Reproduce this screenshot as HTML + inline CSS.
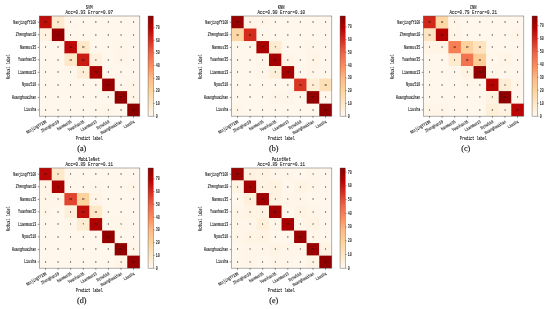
<!DOCTYPE html>
<html lang="en"><head><meta charset="utf-8"><title>Confusion matrices</title>
<style>html,body{margin:0;padding:0;background:#fff}svg{display:block}.m{font-family:"Liberation Mono","DejaVu Sans Mono",monospace;fill:#111;stroke:#111;stroke-width:0.9}.d{fill:#1c1612;stroke:#1c1612;stroke-width:1.6;font-weight:bold;opacity:0.66;text-rendering:geometricPrecision}.s{font-family:"Liberation Serif","DejaVu Serif",serif;fill:#111;text-rendering:geometricPrecision}</style></head><body>
<svg width="550" height="309" viewBox="0 0 550 309">
<defs><linearGradient id="g" x1="0" y1="1" x2="0" y2="0">
<stop offset="0.0000" stop-color="#fff7ec"/>
<stop offset="0.1250" stop-color="#fee8c8"/>
<stop offset="0.2500" stop-color="#fdd49e"/>
<stop offset="0.3750" stop-color="#fdbb84"/>
<stop offset="0.5000" stop-color="#fc8d59"/>
<stop offset="0.6250" stop-color="#ef6548"/>
<stop offset="0.7500" stop-color="#d7301f"/>
<stop offset="0.8750" stop-color="#b80202"/>
<stop offset="1.0000" stop-color="#8c0000"/>
</linearGradient></defs>
<rect width="550" height="309" fill="#fff"/>
<g>
<rect x="39.25" y="16.00" width="100.60" height="100.15" fill="#fff7ec"/>
<rect x="39.25" y="16.00" width="12.57" height="12.52" fill="#bf0d09"/>
<rect x="51.83" y="16.00" width="12.57" height="12.52" fill="#feebcf"/>
<rect x="39.25" y="28.52" width="12.57" height="12.52" fill="#fff2e1"/>
<rect x="51.83" y="28.52" width="12.57" height="12.52" fill="#960000"/>
<rect x="64.40" y="41.04" width="12.57" height="12.52" fill="#bc0806"/>
<rect x="76.97" y="41.04" width="12.57" height="12.52" fill="#fee8c8"/>
<rect x="114.70" y="41.04" width="12.57" height="12.52" fill="#fff5e8"/>
<rect x="64.40" y="53.56" width="12.57" height="12.52" fill="#fee8c8"/>
<rect x="76.97" y="53.56" width="12.57" height="12.52" fill="#c91b12"/>
<rect x="89.55" y="53.56" width="12.57" height="12.52" fill="#fff1dd"/>
<rect x="114.70" y="53.56" width="12.57" height="12.52" fill="#fff5e8"/>
<rect x="76.97" y="66.08" width="12.57" height="12.52" fill="#feeed6"/>
<rect x="89.55" y="66.08" width="12.57" height="12.52" fill="#a80101"/>
<rect x="102.12" y="78.59" width="12.57" height="12.52" fill="#960000"/>
<rect x="127.27" y="78.59" width="12.57" height="12.52" fill="#fff5e8"/>
<rect x="114.70" y="91.11" width="12.57" height="12.52" fill="#910000"/>
<rect x="127.27" y="91.11" width="12.57" height="12.52" fill="#fff5e8"/>
<rect x="102.12" y="103.63" width="12.57" height="12.52" fill="#fff5e8"/>
<rect x="127.27" y="103.63" width="12.57" height="12.52" fill="#8d0000"/>
<rect x="39.25" y="16.00" width="100.60" height="100.15" fill="none" stroke="#555" stroke-width="0.45"/>
<text class="m d" transform="translate(45.54 23.06) scale(0.100)" font-size="29.0" text-anchor="middle" textLength="23.0" lengthAdjust="spacingAndGlyphs">67</text>
<text class="m d" transform="translate(58.11 23.06) scale(0.100)" font-size="29.0" text-anchor="middle" textLength="11.5" lengthAdjust="spacingAndGlyphs">8</text>
<text class="m d" transform="translate(70.69 23.06) scale(0.100)" font-size="29.0" text-anchor="middle" textLength="11.5" lengthAdjust="spacingAndGlyphs">0</text>
<text class="m d" transform="translate(83.26 23.06) scale(0.100)" font-size="29.0" text-anchor="middle" textLength="11.5" lengthAdjust="spacingAndGlyphs">0</text>
<text class="m d" transform="translate(95.84 23.06) scale(0.100)" font-size="29.0" text-anchor="middle" textLength="11.5" lengthAdjust="spacingAndGlyphs">0</text>
<text class="m d" transform="translate(108.41 23.06) scale(0.100)" font-size="29.0" text-anchor="middle" textLength="11.5" lengthAdjust="spacingAndGlyphs">0</text>
<text class="m d" transform="translate(120.99 23.06) scale(0.100)" font-size="29.0" text-anchor="middle" textLength="11.5" lengthAdjust="spacingAndGlyphs">0</text>
<text class="m d" transform="translate(133.56 23.06) scale(0.100)" font-size="29.0" text-anchor="middle" textLength="11.5" lengthAdjust="spacingAndGlyphs">0</text>
<text class="m d" transform="translate(45.54 35.58) scale(0.100)" font-size="29.0" text-anchor="middle" textLength="11.5" lengthAdjust="spacingAndGlyphs">3</text>
<text class="m d" transform="translate(58.11 35.58) scale(0.100)" font-size="29.0" text-anchor="middle" textLength="23.0" lengthAdjust="spacingAndGlyphs">77</text>
<text class="m d" transform="translate(70.69 35.58) scale(0.100)" font-size="29.0" text-anchor="middle" textLength="11.5" lengthAdjust="spacingAndGlyphs">0</text>
<text class="m d" transform="translate(83.26 35.58) scale(0.100)" font-size="29.0" text-anchor="middle" textLength="11.5" lengthAdjust="spacingAndGlyphs">0</text>
<text class="m d" transform="translate(95.84 35.58) scale(0.100)" font-size="29.0" text-anchor="middle" textLength="11.5" lengthAdjust="spacingAndGlyphs">0</text>
<text class="m d" transform="translate(108.41 35.58) scale(0.100)" font-size="29.0" text-anchor="middle" textLength="11.5" lengthAdjust="spacingAndGlyphs">0</text>
<text class="m d" transform="translate(120.99 35.58) scale(0.100)" font-size="29.0" text-anchor="middle" textLength="11.5" lengthAdjust="spacingAndGlyphs">0</text>
<text class="m d" transform="translate(133.56 35.58) scale(0.100)" font-size="29.0" text-anchor="middle" textLength="11.5" lengthAdjust="spacingAndGlyphs">0</text>
<text class="m d" transform="translate(45.54 48.10) scale(0.100)" font-size="29.0" text-anchor="middle" textLength="11.5" lengthAdjust="spacingAndGlyphs">0</text>
<text class="m d" transform="translate(58.11 48.10) scale(0.100)" font-size="29.0" text-anchor="middle" textLength="11.5" lengthAdjust="spacingAndGlyphs">0</text>
<text class="m d" transform="translate(70.69 48.10) scale(0.100)" font-size="29.0" text-anchor="middle" textLength="23.0" lengthAdjust="spacingAndGlyphs">68</text>
<text class="m d" transform="translate(83.26 48.10) scale(0.100)" font-size="29.0" text-anchor="middle" textLength="23.0" lengthAdjust="spacingAndGlyphs">10</text>
<text class="m d" transform="translate(95.84 48.10) scale(0.100)" font-size="29.0" text-anchor="middle" textLength="11.5" lengthAdjust="spacingAndGlyphs">0</text>
<text class="m d" transform="translate(108.41 48.10) scale(0.100)" font-size="29.0" text-anchor="middle" textLength="11.5" lengthAdjust="spacingAndGlyphs">0</text>
<text class="m d" transform="translate(120.99 48.10) scale(0.100)" font-size="29.0" text-anchor="middle" textLength="11.5" lengthAdjust="spacingAndGlyphs">1</text>
<text class="m d" transform="translate(133.56 48.10) scale(0.100)" font-size="29.0" text-anchor="middle" textLength="11.5" lengthAdjust="spacingAndGlyphs">0</text>
<text class="m d" transform="translate(45.54 60.62) scale(0.100)" font-size="29.0" text-anchor="middle" textLength="11.5" lengthAdjust="spacingAndGlyphs">0</text>
<text class="m d" transform="translate(58.11 60.62) scale(0.100)" font-size="29.0" text-anchor="middle" textLength="11.5" lengthAdjust="spacingAndGlyphs">0</text>
<text class="m d" transform="translate(70.69 60.62) scale(0.100)" font-size="29.0" text-anchor="middle" textLength="23.0" lengthAdjust="spacingAndGlyphs">10</text>
<text class="m d" transform="translate(83.26 60.62) scale(0.100)" font-size="29.0" text-anchor="middle" textLength="23.0" lengthAdjust="spacingAndGlyphs">64</text>
<text class="m d" transform="translate(95.84 60.62) scale(0.100)" font-size="29.0" text-anchor="middle" textLength="11.5" lengthAdjust="spacingAndGlyphs">4</text>
<text class="m d" transform="translate(108.41 60.62) scale(0.100)" font-size="29.0" text-anchor="middle" textLength="11.5" lengthAdjust="spacingAndGlyphs">0</text>
<text class="m d" transform="translate(120.99 60.62) scale(0.100)" font-size="29.0" text-anchor="middle" textLength="11.5" lengthAdjust="spacingAndGlyphs">1</text>
<text class="m d" transform="translate(133.56 60.62) scale(0.100)" font-size="29.0" text-anchor="middle" textLength="11.5" lengthAdjust="spacingAndGlyphs">0</text>
<text class="m d" transform="translate(45.54 73.13) scale(0.100)" font-size="29.0" text-anchor="middle" textLength="11.5" lengthAdjust="spacingAndGlyphs">0</text>
<text class="m d" transform="translate(58.11 73.13) scale(0.100)" font-size="29.0" text-anchor="middle" textLength="11.5" lengthAdjust="spacingAndGlyphs">0</text>
<text class="m d" transform="translate(70.69 73.13) scale(0.100)" font-size="29.0" text-anchor="middle" textLength="11.5" lengthAdjust="spacingAndGlyphs">0</text>
<text class="m d" transform="translate(83.26 73.13) scale(0.100)" font-size="29.0" text-anchor="middle" textLength="11.5" lengthAdjust="spacingAndGlyphs">6</text>
<text class="m d" transform="translate(95.84 73.13) scale(0.100)" font-size="29.0" text-anchor="middle" textLength="23.0" lengthAdjust="spacingAndGlyphs">73</text>
<text class="m d" transform="translate(108.41 73.13) scale(0.100)" font-size="29.0" text-anchor="middle" textLength="11.5" lengthAdjust="spacingAndGlyphs">0</text>
<text class="m d" transform="translate(120.99 73.13) scale(0.100)" font-size="29.0" text-anchor="middle" textLength="11.5" lengthAdjust="spacingAndGlyphs">0</text>
<text class="m d" transform="translate(133.56 73.13) scale(0.100)" font-size="29.0" text-anchor="middle" textLength="11.5" lengthAdjust="spacingAndGlyphs">0</text>
<text class="m d" transform="translate(45.54 85.65) scale(0.100)" font-size="29.0" text-anchor="middle" textLength="11.5" lengthAdjust="spacingAndGlyphs">0</text>
<text class="m d" transform="translate(58.11 85.65) scale(0.100)" font-size="29.0" text-anchor="middle" textLength="11.5" lengthAdjust="spacingAndGlyphs">0</text>
<text class="m d" transform="translate(70.69 85.65) scale(0.100)" font-size="29.0" text-anchor="middle" textLength="11.5" lengthAdjust="spacingAndGlyphs">0</text>
<text class="m d" transform="translate(83.26 85.65) scale(0.100)" font-size="29.0" text-anchor="middle" textLength="11.5" lengthAdjust="spacingAndGlyphs">0</text>
<text class="m d" transform="translate(95.84 85.65) scale(0.100)" font-size="29.0" text-anchor="middle" textLength="11.5" lengthAdjust="spacingAndGlyphs">0</text>
<text class="m d" transform="translate(108.41 85.65) scale(0.100)" font-size="29.0" text-anchor="middle" textLength="23.0" lengthAdjust="spacingAndGlyphs">77</text>
<text class="m d" transform="translate(120.99 85.65) scale(0.100)" font-size="29.0" text-anchor="middle" textLength="11.5" lengthAdjust="spacingAndGlyphs">0</text>
<text class="m d" transform="translate(133.56 85.65) scale(0.100)" font-size="29.0" text-anchor="middle" textLength="11.5" lengthAdjust="spacingAndGlyphs">1</text>
<text class="m d" transform="translate(45.54 98.17) scale(0.100)" font-size="29.0" text-anchor="middle" textLength="11.5" lengthAdjust="spacingAndGlyphs">0</text>
<text class="m d" transform="translate(58.11 98.17) scale(0.100)" font-size="29.0" text-anchor="middle" textLength="11.5" lengthAdjust="spacingAndGlyphs">0</text>
<text class="m d" transform="translate(70.69 98.17) scale(0.100)" font-size="29.0" text-anchor="middle" textLength="11.5" lengthAdjust="spacingAndGlyphs">0</text>
<text class="m d" transform="translate(83.26 98.17) scale(0.100)" font-size="29.0" text-anchor="middle" textLength="11.5" lengthAdjust="spacingAndGlyphs">0</text>
<text class="m d" transform="translate(95.84 98.17) scale(0.100)" font-size="29.0" text-anchor="middle" textLength="11.5" lengthAdjust="spacingAndGlyphs">0</text>
<text class="m d" transform="translate(108.41 98.17) scale(0.100)" font-size="29.0" text-anchor="middle" textLength="11.5" lengthAdjust="spacingAndGlyphs">0</text>
<text class="m d" transform="translate(120.99 98.17) scale(0.100)" font-size="29.0" text-anchor="middle" textLength="23.0" lengthAdjust="spacingAndGlyphs">78</text>
<text class="m d" transform="translate(133.56 98.17) scale(0.100)" font-size="29.0" text-anchor="middle" textLength="11.5" lengthAdjust="spacingAndGlyphs">1</text>
<text class="m d" transform="translate(45.54 110.69) scale(0.100)" font-size="29.0" text-anchor="middle" textLength="11.5" lengthAdjust="spacingAndGlyphs">0</text>
<text class="m d" transform="translate(58.11 110.69) scale(0.100)" font-size="29.0" text-anchor="middle" textLength="11.5" lengthAdjust="spacingAndGlyphs">0</text>
<text class="m d" transform="translate(70.69 110.69) scale(0.100)" font-size="29.0" text-anchor="middle" textLength="11.5" lengthAdjust="spacingAndGlyphs">0</text>
<text class="m d" transform="translate(83.26 110.69) scale(0.100)" font-size="29.0" text-anchor="middle" textLength="11.5" lengthAdjust="spacingAndGlyphs">0</text>
<text class="m d" transform="translate(95.84 110.69) scale(0.100)" font-size="29.0" text-anchor="middle" textLength="11.5" lengthAdjust="spacingAndGlyphs">0</text>
<text class="m d" transform="translate(108.41 110.69) scale(0.100)" font-size="29.0" text-anchor="middle" textLength="11.5" lengthAdjust="spacingAndGlyphs">1</text>
<text class="m d" transform="translate(120.99 110.69) scale(0.100)" font-size="29.0" text-anchor="middle" textLength="11.5" lengthAdjust="spacingAndGlyphs">0</text>
<text class="m d" transform="translate(133.56 110.69) scale(0.100)" font-size="29.0" text-anchor="middle" textLength="23.0" lengthAdjust="spacingAndGlyphs">79</text>
<path d="M39.25 22.26h-1.5M45.54 116.15v1.6" stroke="#111" stroke-width="0.5" fill="none"/>
<text class="m" transform="translate(36.25 23.86) scale(0.100)" font-size="47.0" text-anchor="end" textLength="230.4" lengthAdjust="spacingAndGlyphs">NanjingYY108</text>
<text class="m" transform="translate(46.94 122.45) rotate(-30) scale(0.100)" font-size="47.0" text-anchor="end" textLength="228.0" lengthAdjust="spacingAndGlyphs" stroke-width="1.6">NanjingYY108</text>
<path d="M39.25 34.78h-1.5M58.11 116.15v1.6" stroke="#111" stroke-width="0.5" fill="none"/>
<text class="m" transform="translate(36.25 36.38) scale(0.100)" font-size="47.0" text-anchor="end" textLength="204.0" lengthAdjust="spacingAndGlyphs">Zhenghan10</text>
<text class="m" transform="translate(59.51 122.45) rotate(-30) scale(0.100)" font-size="47.0" text-anchor="end" textLength="202.0" lengthAdjust="spacingAndGlyphs" stroke-width="1.6">Zhenghan10</text>
<path d="M39.25 47.30h-1.5M70.69 116.15v1.6" stroke="#111" stroke-width="0.5" fill="none"/>
<text class="m" transform="translate(36.25 48.90) scale(0.100)" font-size="47.0" text-anchor="end" textLength="163.2" lengthAdjust="spacingAndGlyphs">Nanmus35</text>
<text class="m" transform="translate(72.09 122.45) rotate(-30) scale(0.100)" font-size="47.0" text-anchor="end" textLength="161.6" lengthAdjust="spacingAndGlyphs" stroke-width="1.6">Nanmus35</text>
<path d="M39.25 59.82h-1.5M83.26 116.15v1.6" stroke="#111" stroke-width="0.5" fill="none"/>
<text class="m" transform="translate(36.25 61.42) scale(0.100)" font-size="47.0" text-anchor="end" textLength="183.6" lengthAdjust="spacingAndGlyphs">Yuanhan35</text>
<text class="m" transform="translate(84.66 122.45) rotate(-30) scale(0.100)" font-size="47.0" text-anchor="end" textLength="181.8" lengthAdjust="spacingAndGlyphs" stroke-width="1.6">Yuanhan35</text>
<path d="M39.25 72.33h-1.5M95.84 116.15v1.6" stroke="#111" stroke-width="0.5" fill="none"/>
<text class="m" transform="translate(36.25 73.93) scale(0.100)" font-size="47.0" text-anchor="end" textLength="183.6" lengthAdjust="spacingAndGlyphs">Lianmuo13</text>
<text class="m" transform="translate(97.24 122.45) rotate(-30) scale(0.100)" font-size="47.0" text-anchor="end" textLength="181.8" lengthAdjust="spacingAndGlyphs" stroke-width="1.6">Lianmuo13</text>
<path d="M39.25 84.85h-1.5M108.41 116.15v1.6" stroke="#111" stroke-width="0.5" fill="none"/>
<text class="m" transform="translate(36.25 86.45) scale(0.100)" font-size="47.0" text-anchor="end" textLength="142.8" lengthAdjust="spacingAndGlyphs">Nyou518</text>
<text class="m" transform="translate(109.81 122.45) rotate(-30) scale(0.100)" font-size="47.0" text-anchor="end" textLength="141.4" lengthAdjust="spacingAndGlyphs" stroke-width="1.6">Nyou518</text>
<path d="M39.25 97.37h-1.5M120.99 116.15v1.6" stroke="#111" stroke-width="0.5" fill="none"/>
<text class="m" transform="translate(36.25 98.97) scale(0.100)" font-size="47.0" text-anchor="end" textLength="244.8" lengthAdjust="spacingAndGlyphs">Huanghuaihan</text>
<text class="m" transform="translate(122.39 122.45) rotate(-30) scale(0.100)" font-size="47.0" text-anchor="end" textLength="242.4" lengthAdjust="spacingAndGlyphs" stroke-width="1.6">Huanghuaihan</text>
<path d="M39.25 109.89h-1.5M133.56 116.15v1.6" stroke="#111" stroke-width="0.5" fill="none"/>
<text class="m" transform="translate(36.25 111.49) scale(0.100)" font-size="47.0" text-anchor="end" textLength="122.4" lengthAdjust="spacingAndGlyphs">Liusha</text>
<text class="m" transform="translate(134.96 122.45) rotate(-30) scale(0.100)" font-size="47.0" text-anchor="end" textLength="121.2" lengthAdjust="spacingAndGlyphs" stroke-width="1.6">Liusha</text>
<text class="m" transform="translate(9.50 66.67) rotate(-90) scale(0.100)" font-size="46.0" text-anchor="middle" textLength="246.0" lengthAdjust="spacingAndGlyphs">Actual label</text>
<text class="m" transform="translate(89.30 140.35) scale(0.100)" font-size="48.0" text-anchor="middle" textLength="269.1" lengthAdjust="spacingAndGlyphs">Predict label</text>
<text class="m" transform="translate(89.20 8.55) scale(0.100)" font-size="55.0" text-anchor="middle" textLength="69.0" lengthAdjust="spacingAndGlyphs" stroke-width="1.2">SVM</text>
<text class="m" transform="translate(89.20 13.65) scale(0.100)" font-size="55.0" text-anchor="middle" textLength="475.0" lengthAdjust="spacingAndGlyphs" stroke-width="0.4">Acc=0.93 Error=0.07</text>
<rect x="148.05" y="16.00" width="5.20" height="100.15" fill="url(#g)" stroke="#444" stroke-width="0.4"/>
<path d="M153.25 116.15h1.5" stroke="#333" stroke-width="0.4"/>
<text class="m" transform="translate(155.75 117.65) scale(0.100)" font-size="47.0" text-anchor="start" textLength="20.0" lengthAdjust="spacingAndGlyphs">0</text>
<path d="M153.25 103.50h1.5" stroke="#333" stroke-width="0.4"/>
<text class="m" transform="translate(155.75 105.00) scale(0.100)" font-size="47.0" text-anchor="start" textLength="40.0" lengthAdjust="spacingAndGlyphs">10</text>
<path d="M153.25 90.86h1.5" stroke="#333" stroke-width="0.4"/>
<text class="m" transform="translate(155.75 92.36) scale(0.100)" font-size="47.0" text-anchor="start" textLength="40.0" lengthAdjust="spacingAndGlyphs">20</text>
<path d="M153.25 78.21h1.5" stroke="#333" stroke-width="0.4"/>
<text class="m" transform="translate(155.75 79.71) scale(0.100)" font-size="47.0" text-anchor="start" textLength="40.0" lengthAdjust="spacingAndGlyphs">30</text>
<path d="M153.25 65.57h1.5" stroke="#333" stroke-width="0.4"/>
<text class="m" transform="translate(155.75 67.07) scale(0.100)" font-size="47.0" text-anchor="start" textLength="40.0" lengthAdjust="spacingAndGlyphs">40</text>
<path d="M153.25 52.92h1.5" stroke="#333" stroke-width="0.4"/>
<text class="m" transform="translate(155.75 54.42) scale(0.100)" font-size="47.0" text-anchor="start" textLength="40.0" lengthAdjust="spacingAndGlyphs">50</text>
<path d="M153.25 40.28h1.5" stroke="#333" stroke-width="0.4"/>
<text class="m" transform="translate(155.75 41.78) scale(0.100)" font-size="47.0" text-anchor="start" textLength="40.0" lengthAdjust="spacingAndGlyphs">60</text>
<path d="M153.25 27.63h1.5" stroke="#333" stroke-width="0.4"/>
<text class="m" transform="translate(155.75 29.13) scale(0.100)" font-size="47.0" text-anchor="start" textLength="40.0" lengthAdjust="spacingAndGlyphs">70</text>
<text class="s" transform="translate(81.80 150.75) scale(0.100)" font-size="82.0" text-anchor="middle" stroke="#111" stroke-width="1.5">(a)</text>
</g>
<g>
<rect x="231.25" y="16.00" width="100.60" height="100.15" fill="#fff7ec"/>
<rect x="231.25" y="16.00" width="12.57" height="12.52" fill="#980101"/>
<rect x="243.82" y="16.00" width="12.57" height="12.52" fill="#fff4e5"/>
<rect x="256.40" y="16.00" width="12.57" height="12.52" fill="#fff5e8"/>
<rect x="231.25" y="28.52" width="12.57" height="12.52" fill="#fdd7a5"/>
<rect x="243.82" y="28.52" width="12.57" height="12.52" fill="#d42b1c"/>
<rect x="256.40" y="41.04" width="12.57" height="12.52" fill="#aa0101"/>
<rect x="268.98" y="41.04" width="12.57" height="12.52" fill="#feecd2"/>
<rect x="306.70" y="41.04" width="12.57" height="12.52" fill="#fff5e8"/>
<rect x="256.40" y="53.56" width="12.57" height="12.52" fill="#fff5e8"/>
<rect x="268.98" y="53.56" width="12.57" height="12.52" fill="#a50101"/>
<rect x="281.55" y="53.56" width="12.57" height="12.52" fill="#fff4e5"/>
<rect x="306.70" y="53.56" width="12.57" height="12.52" fill="#fff4e5"/>
<rect x="256.40" y="66.08" width="12.57" height="12.52" fill="#fff5e8"/>
<rect x="268.98" y="66.08" width="12.57" height="12.52" fill="#feefda"/>
<rect x="281.55" y="66.08" width="12.57" height="12.52" fill="#a50101"/>
<rect x="306.70" y="66.08" width="12.57" height="12.52" fill="#fff5e8"/>
<rect x="294.12" y="78.59" width="12.57" height="12.52" fill="#d93523"/>
<rect x="306.70" y="78.59" width="12.57" height="12.52" fill="#feeed6"/>
<rect x="319.27" y="78.59" width="12.57" height="12.52" fill="#fee0b6"/>
<rect x="268.98" y="91.11" width="12.57" height="12.52" fill="#fff5e8"/>
<rect x="281.55" y="91.11" width="12.57" height="12.52" fill="#fff5e8"/>
<rect x="306.70" y="91.11" width="12.57" height="12.52" fill="#930000"/>
<rect x="231.25" y="103.63" width="12.57" height="12.52" fill="#fff5e8"/>
<rect x="319.27" y="103.63" width="12.57" height="12.52" fill="#8f0000"/>
<rect x="231.25" y="16.00" width="100.60" height="100.15" fill="none" stroke="#555" stroke-width="0.45"/>
<text class="m d" transform="translate(237.54 23.06) scale(0.100)" font-size="29.0" text-anchor="middle" textLength="23.0" lengthAdjust="spacingAndGlyphs">76</text>
<text class="m d" transform="translate(250.11 23.06) scale(0.100)" font-size="29.0" text-anchor="middle" textLength="11.5" lengthAdjust="spacingAndGlyphs">2</text>
<text class="m d" transform="translate(262.69 23.06) scale(0.100)" font-size="29.0" text-anchor="middle" textLength="11.5" lengthAdjust="spacingAndGlyphs">1</text>
<text class="m d" transform="translate(275.26 23.06) scale(0.100)" font-size="29.0" text-anchor="middle" textLength="11.5" lengthAdjust="spacingAndGlyphs">0</text>
<text class="m d" transform="translate(287.84 23.06) scale(0.100)" font-size="29.0" text-anchor="middle" textLength="11.5" lengthAdjust="spacingAndGlyphs">0</text>
<text class="m d" transform="translate(300.41 23.06) scale(0.100)" font-size="29.0" text-anchor="middle" textLength="11.5" lengthAdjust="spacingAndGlyphs">0</text>
<text class="m d" transform="translate(312.99 23.06) scale(0.100)" font-size="29.0" text-anchor="middle" textLength="11.5" lengthAdjust="spacingAndGlyphs">0</text>
<text class="m d" transform="translate(325.56 23.06) scale(0.100)" font-size="29.0" text-anchor="middle" textLength="11.5" lengthAdjust="spacingAndGlyphs">0</text>
<text class="m d" transform="translate(237.54 35.58) scale(0.100)" font-size="29.0" text-anchor="middle" textLength="23.0" lengthAdjust="spacingAndGlyphs">18</text>
<text class="m d" transform="translate(250.11 35.58) scale(0.100)" font-size="29.0" text-anchor="middle" textLength="23.0" lengthAdjust="spacingAndGlyphs">60</text>
<text class="m d" transform="translate(262.69 35.58) scale(0.100)" font-size="29.0" text-anchor="middle" textLength="11.5" lengthAdjust="spacingAndGlyphs">0</text>
<text class="m d" transform="translate(275.26 35.58) scale(0.100)" font-size="29.0" text-anchor="middle" textLength="11.5" lengthAdjust="spacingAndGlyphs">0</text>
<text class="m d" transform="translate(287.84 35.58) scale(0.100)" font-size="29.0" text-anchor="middle" textLength="11.5" lengthAdjust="spacingAndGlyphs">0</text>
<text class="m d" transform="translate(300.41 35.58) scale(0.100)" font-size="29.0" text-anchor="middle" textLength="11.5" lengthAdjust="spacingAndGlyphs">0</text>
<text class="m d" transform="translate(312.99 35.58) scale(0.100)" font-size="29.0" text-anchor="middle" textLength="11.5" lengthAdjust="spacingAndGlyphs">0</text>
<text class="m d" transform="translate(325.56 35.58) scale(0.100)" font-size="29.0" text-anchor="middle" textLength="11.5" lengthAdjust="spacingAndGlyphs">0</text>
<text class="m d" transform="translate(237.54 48.10) scale(0.100)" font-size="29.0" text-anchor="middle" textLength="11.5" lengthAdjust="spacingAndGlyphs">0</text>
<text class="m d" transform="translate(250.11 48.10) scale(0.100)" font-size="29.0" text-anchor="middle" textLength="11.5" lengthAdjust="spacingAndGlyphs">0</text>
<text class="m d" transform="translate(262.69 48.10) scale(0.100)" font-size="29.0" text-anchor="middle" textLength="23.0" lengthAdjust="spacingAndGlyphs">72</text>
<text class="m d" transform="translate(275.26 48.10) scale(0.100)" font-size="29.0" text-anchor="middle" textLength="11.5" lengthAdjust="spacingAndGlyphs">7</text>
<text class="m d" transform="translate(287.84 48.10) scale(0.100)" font-size="29.0" text-anchor="middle" textLength="11.5" lengthAdjust="spacingAndGlyphs">0</text>
<text class="m d" transform="translate(300.41 48.10) scale(0.100)" font-size="29.0" text-anchor="middle" textLength="11.5" lengthAdjust="spacingAndGlyphs">0</text>
<text class="m d" transform="translate(312.99 48.10) scale(0.100)" font-size="29.0" text-anchor="middle" textLength="11.5" lengthAdjust="spacingAndGlyphs">1</text>
<text class="m d" transform="translate(325.56 48.10) scale(0.100)" font-size="29.0" text-anchor="middle" textLength="11.5" lengthAdjust="spacingAndGlyphs">0</text>
<text class="m d" transform="translate(237.54 60.62) scale(0.100)" font-size="29.0" text-anchor="middle" textLength="11.5" lengthAdjust="spacingAndGlyphs">0</text>
<text class="m d" transform="translate(250.11 60.62) scale(0.100)" font-size="29.0" text-anchor="middle" textLength="11.5" lengthAdjust="spacingAndGlyphs">0</text>
<text class="m d" transform="translate(262.69 60.62) scale(0.100)" font-size="29.0" text-anchor="middle" textLength="11.5" lengthAdjust="spacingAndGlyphs">1</text>
<text class="m d" transform="translate(275.26 60.62) scale(0.100)" font-size="29.0" text-anchor="middle" textLength="23.0" lengthAdjust="spacingAndGlyphs">73</text>
<text class="m d" transform="translate(287.84 60.62) scale(0.100)" font-size="29.0" text-anchor="middle" textLength="11.5" lengthAdjust="spacingAndGlyphs">2</text>
<text class="m d" transform="translate(300.41 60.62) scale(0.100)" font-size="29.0" text-anchor="middle" textLength="11.5" lengthAdjust="spacingAndGlyphs">0</text>
<text class="m d" transform="translate(312.99 60.62) scale(0.100)" font-size="29.0" text-anchor="middle" textLength="11.5" lengthAdjust="spacingAndGlyphs">2</text>
<text class="m d" transform="translate(325.56 60.62) scale(0.100)" font-size="29.0" text-anchor="middle" textLength="11.5" lengthAdjust="spacingAndGlyphs">0</text>
<text class="m d" transform="translate(237.54 73.13) scale(0.100)" font-size="29.0" text-anchor="middle" textLength="11.5" lengthAdjust="spacingAndGlyphs">0</text>
<text class="m d" transform="translate(250.11 73.13) scale(0.100)" font-size="29.0" text-anchor="middle" textLength="11.5" lengthAdjust="spacingAndGlyphs">0</text>
<text class="m d" transform="translate(262.69 73.13) scale(0.100)" font-size="29.0" text-anchor="middle" textLength="11.5" lengthAdjust="spacingAndGlyphs">1</text>
<text class="m d" transform="translate(275.26 73.13) scale(0.100)" font-size="29.0" text-anchor="middle" textLength="11.5" lengthAdjust="spacingAndGlyphs">5</text>
<text class="m d" transform="translate(287.84 73.13) scale(0.100)" font-size="29.0" text-anchor="middle" textLength="23.0" lengthAdjust="spacingAndGlyphs">73</text>
<text class="m d" transform="translate(300.41 73.13) scale(0.100)" font-size="29.0" text-anchor="middle" textLength="11.5" lengthAdjust="spacingAndGlyphs">0</text>
<text class="m d" transform="translate(312.99 73.13) scale(0.100)" font-size="29.0" text-anchor="middle" textLength="11.5" lengthAdjust="spacingAndGlyphs">1</text>
<text class="m d" transform="translate(325.56 73.13) scale(0.100)" font-size="29.0" text-anchor="middle" textLength="11.5" lengthAdjust="spacingAndGlyphs">0</text>
<text class="m d" transform="translate(237.54 85.65) scale(0.100)" font-size="29.0" text-anchor="middle" textLength="11.5" lengthAdjust="spacingAndGlyphs">0</text>
<text class="m d" transform="translate(250.11 85.65) scale(0.100)" font-size="29.0" text-anchor="middle" textLength="11.5" lengthAdjust="spacingAndGlyphs">0</text>
<text class="m d" transform="translate(262.69 85.65) scale(0.100)" font-size="29.0" text-anchor="middle" textLength="11.5" lengthAdjust="spacingAndGlyphs">0</text>
<text class="m d" transform="translate(275.26 85.65) scale(0.100)" font-size="29.0" text-anchor="middle" textLength="11.5" lengthAdjust="spacingAndGlyphs">0</text>
<text class="m d" transform="translate(287.84 85.65) scale(0.100)" font-size="29.0" text-anchor="middle" textLength="11.5" lengthAdjust="spacingAndGlyphs">0</text>
<text class="m d" transform="translate(300.41 85.65) scale(0.100)" font-size="29.0" text-anchor="middle" textLength="23.0" lengthAdjust="spacingAndGlyphs">58</text>
<text class="m d" transform="translate(312.99 85.65) scale(0.100)" font-size="29.0" text-anchor="middle" textLength="11.5" lengthAdjust="spacingAndGlyphs">6</text>
<text class="m d" transform="translate(325.56 85.65) scale(0.100)" font-size="29.0" text-anchor="middle" textLength="23.0" lengthAdjust="spacingAndGlyphs">14</text>
<text class="m d" transform="translate(237.54 98.17) scale(0.100)" font-size="29.0" text-anchor="middle" textLength="11.5" lengthAdjust="spacingAndGlyphs">0</text>
<text class="m d" transform="translate(250.11 98.17) scale(0.100)" font-size="29.0" text-anchor="middle" textLength="11.5" lengthAdjust="spacingAndGlyphs">0</text>
<text class="m d" transform="translate(262.69 98.17) scale(0.100)" font-size="29.0" text-anchor="middle" textLength="11.5" lengthAdjust="spacingAndGlyphs">0</text>
<text class="m d" transform="translate(275.26 98.17) scale(0.100)" font-size="29.0" text-anchor="middle" textLength="11.5" lengthAdjust="spacingAndGlyphs">1</text>
<text class="m d" transform="translate(287.84 98.17) scale(0.100)" font-size="29.0" text-anchor="middle" textLength="11.5" lengthAdjust="spacingAndGlyphs">1</text>
<text class="m d" transform="translate(300.41 98.17) scale(0.100)" font-size="29.0" text-anchor="middle" textLength="11.5" lengthAdjust="spacingAndGlyphs">0</text>
<text class="m d" transform="translate(312.99 98.17) scale(0.100)" font-size="29.0" text-anchor="middle" textLength="23.0" lengthAdjust="spacingAndGlyphs">77</text>
<text class="m d" transform="translate(325.56 98.17) scale(0.100)" font-size="29.0" text-anchor="middle" textLength="11.5" lengthAdjust="spacingAndGlyphs">0</text>
<text class="m d" transform="translate(237.54 110.69) scale(0.100)" font-size="29.0" text-anchor="middle" textLength="11.5" lengthAdjust="spacingAndGlyphs">1</text>
<text class="m d" transform="translate(250.11 110.69) scale(0.100)" font-size="29.0" text-anchor="middle" textLength="11.5" lengthAdjust="spacingAndGlyphs">0</text>
<text class="m d" transform="translate(262.69 110.69) scale(0.100)" font-size="29.0" text-anchor="middle" textLength="11.5" lengthAdjust="spacingAndGlyphs">0</text>
<text class="m d" transform="translate(275.26 110.69) scale(0.100)" font-size="29.0" text-anchor="middle" textLength="11.5" lengthAdjust="spacingAndGlyphs">0</text>
<text class="m d" transform="translate(287.84 110.69) scale(0.100)" font-size="29.0" text-anchor="middle" textLength="11.5" lengthAdjust="spacingAndGlyphs">0</text>
<text class="m d" transform="translate(300.41 110.69) scale(0.100)" font-size="29.0" text-anchor="middle" textLength="11.5" lengthAdjust="spacingAndGlyphs">0</text>
<text class="m d" transform="translate(312.99 110.69) scale(0.100)" font-size="29.0" text-anchor="middle" textLength="11.5" lengthAdjust="spacingAndGlyphs">0</text>
<text class="m d" transform="translate(325.56 110.69) scale(0.100)" font-size="29.0" text-anchor="middle" textLength="23.0" lengthAdjust="spacingAndGlyphs">78</text>
<path d="M231.25 22.26h-1.5M237.54 116.15v1.6" stroke="#111" stroke-width="0.5" fill="none"/>
<text class="m" transform="translate(228.25 23.86) scale(0.100)" font-size="47.0" text-anchor="end" textLength="230.4" lengthAdjust="spacingAndGlyphs">NanjingYY108</text>
<text class="m" transform="translate(238.94 122.45) rotate(-30) scale(0.100)" font-size="47.0" text-anchor="end" textLength="228.0" lengthAdjust="spacingAndGlyphs" stroke-width="1.6">NanjingYY108</text>
<path d="M231.25 34.78h-1.5M250.11 116.15v1.6" stroke="#111" stroke-width="0.5" fill="none"/>
<text class="m" transform="translate(228.25 36.38) scale(0.100)" font-size="47.0" text-anchor="end" textLength="204.0" lengthAdjust="spacingAndGlyphs">Zhenghan10</text>
<text class="m" transform="translate(251.51 122.45) rotate(-30) scale(0.100)" font-size="47.0" text-anchor="end" textLength="202.0" lengthAdjust="spacingAndGlyphs" stroke-width="1.6">Zhenghan10</text>
<path d="M231.25 47.30h-1.5M262.69 116.15v1.6" stroke="#111" stroke-width="0.5" fill="none"/>
<text class="m" transform="translate(228.25 48.90) scale(0.100)" font-size="47.0" text-anchor="end" textLength="163.2" lengthAdjust="spacingAndGlyphs">Nanmus35</text>
<text class="m" transform="translate(264.09 122.45) rotate(-30) scale(0.100)" font-size="47.0" text-anchor="end" textLength="161.6" lengthAdjust="spacingAndGlyphs" stroke-width="1.6">Nanmus35</text>
<path d="M231.25 59.82h-1.5M275.26 116.15v1.6" stroke="#111" stroke-width="0.5" fill="none"/>
<text class="m" transform="translate(228.25 61.42) scale(0.100)" font-size="47.0" text-anchor="end" textLength="183.6" lengthAdjust="spacingAndGlyphs">Yuanhan35</text>
<text class="m" transform="translate(276.66 122.45) rotate(-30) scale(0.100)" font-size="47.0" text-anchor="end" textLength="181.8" lengthAdjust="spacingAndGlyphs" stroke-width="1.6">Yuanhan35</text>
<path d="M231.25 72.33h-1.5M287.84 116.15v1.6" stroke="#111" stroke-width="0.5" fill="none"/>
<text class="m" transform="translate(228.25 73.93) scale(0.100)" font-size="47.0" text-anchor="end" textLength="183.6" lengthAdjust="spacingAndGlyphs">Lianmuo13</text>
<text class="m" transform="translate(289.24 122.45) rotate(-30) scale(0.100)" font-size="47.0" text-anchor="end" textLength="181.8" lengthAdjust="spacingAndGlyphs" stroke-width="1.6">Lianmuo13</text>
<path d="M231.25 84.85h-1.5M300.41 116.15v1.6" stroke="#111" stroke-width="0.5" fill="none"/>
<text class="m" transform="translate(228.25 86.45) scale(0.100)" font-size="47.0" text-anchor="end" textLength="142.8" lengthAdjust="spacingAndGlyphs">Nyou518</text>
<text class="m" transform="translate(301.81 122.45) rotate(-30) scale(0.100)" font-size="47.0" text-anchor="end" textLength="141.4" lengthAdjust="spacingAndGlyphs" stroke-width="1.6">Nyou518</text>
<path d="M231.25 97.37h-1.5M312.99 116.15v1.6" stroke="#111" stroke-width="0.5" fill="none"/>
<text class="m" transform="translate(228.25 98.97) scale(0.100)" font-size="47.0" text-anchor="end" textLength="244.8" lengthAdjust="spacingAndGlyphs">Huanghuaihan</text>
<text class="m" transform="translate(314.39 122.45) rotate(-30) scale(0.100)" font-size="47.0" text-anchor="end" textLength="242.4" lengthAdjust="spacingAndGlyphs" stroke-width="1.6">Huanghuaihan</text>
<path d="M231.25 109.89h-1.5M325.56 116.15v1.6" stroke="#111" stroke-width="0.5" fill="none"/>
<text class="m" transform="translate(228.25 111.49) scale(0.100)" font-size="47.0" text-anchor="end" textLength="122.4" lengthAdjust="spacingAndGlyphs">Liusha</text>
<text class="m" transform="translate(326.96 122.45) rotate(-30) scale(0.100)" font-size="47.0" text-anchor="end" textLength="121.2" lengthAdjust="spacingAndGlyphs" stroke-width="1.6">Liusha</text>
<text class="m" transform="translate(201.50 66.67) rotate(-90) scale(0.100)" font-size="46.0" text-anchor="middle" textLength="246.0" lengthAdjust="spacingAndGlyphs">Actual label</text>
<text class="m" transform="translate(281.30 140.35) scale(0.100)" font-size="48.0" text-anchor="middle" textLength="269.1" lengthAdjust="spacingAndGlyphs">Predict label</text>
<text class="m" transform="translate(281.20 8.55) scale(0.100)" font-size="55.0" text-anchor="middle" textLength="69.0" lengthAdjust="spacingAndGlyphs" stroke-width="1.2">KNN</text>
<text class="m" transform="translate(281.20 13.65) scale(0.100)" font-size="55.0" text-anchor="middle" textLength="475.0" lengthAdjust="spacingAndGlyphs" stroke-width="0.4">Acc=0.90 Error=0.10</text>
<rect x="340.05" y="16.00" width="5.20" height="100.15" fill="url(#g)" stroke="#444" stroke-width="0.4"/>
<path d="M345.25 116.15h1.5" stroke="#333" stroke-width="0.4"/>
<text class="m" transform="translate(347.75 117.65) scale(0.100)" font-size="47.0" text-anchor="start" textLength="20.0" lengthAdjust="spacingAndGlyphs">0</text>
<path d="M345.25 103.41h1.5" stroke="#333" stroke-width="0.4"/>
<text class="m" transform="translate(347.75 104.91) scale(0.100)" font-size="47.0" text-anchor="start" textLength="40.0" lengthAdjust="spacingAndGlyphs">10</text>
<path d="M345.25 90.67h1.5" stroke="#333" stroke-width="0.4"/>
<text class="m" transform="translate(347.75 92.17) scale(0.100)" font-size="47.0" text-anchor="start" textLength="40.0" lengthAdjust="spacingAndGlyphs">20</text>
<path d="M345.25 77.92h1.5" stroke="#333" stroke-width="0.4"/>
<text class="m" transform="translate(347.75 79.42) scale(0.100)" font-size="47.0" text-anchor="start" textLength="40.0" lengthAdjust="spacingAndGlyphs">30</text>
<path d="M345.25 65.18h1.5" stroke="#333" stroke-width="0.4"/>
<text class="m" transform="translate(347.75 66.68) scale(0.100)" font-size="47.0" text-anchor="start" textLength="40.0" lengthAdjust="spacingAndGlyphs">40</text>
<path d="M345.25 52.44h1.5" stroke="#333" stroke-width="0.4"/>
<text class="m" transform="translate(347.75 53.94) scale(0.100)" font-size="47.0" text-anchor="start" textLength="40.0" lengthAdjust="spacingAndGlyphs">50</text>
<path d="M345.25 39.70h1.5" stroke="#333" stroke-width="0.4"/>
<text class="m" transform="translate(347.75 41.20) scale(0.100)" font-size="47.0" text-anchor="start" textLength="40.0" lengthAdjust="spacingAndGlyphs">60</text>
<path d="M345.25 26.96h1.5" stroke="#333" stroke-width="0.4"/>
<text class="m" transform="translate(347.75 28.46) scale(0.100)" font-size="47.0" text-anchor="start" textLength="40.0" lengthAdjust="spacingAndGlyphs">70</text>
<text class="s" transform="translate(273.80 150.75) scale(0.100)" font-size="82.0" text-anchor="middle" stroke="#111" stroke-width="1.5">(b)</text>
</g>
<g>
<rect x="423.25" y="16.00" width="100.60" height="100.15" fill="#fff7ec"/>
<rect x="423.25" y="16.00" width="12.57" height="12.52" fill="#d12719"/>
<rect x="435.82" y="16.00" width="12.57" height="12.52" fill="#fdd7a4"/>
<rect x="448.40" y="16.00" width="12.57" height="12.52" fill="#fff5e8"/>
<rect x="423.25" y="28.52" width="12.57" height="12.52" fill="#fee5c2"/>
<rect x="435.82" y="28.52" width="12.57" height="12.52" fill="#b70202"/>
<rect x="448.40" y="28.52" width="12.57" height="12.52" fill="#fff5e8"/>
<rect x="511.27" y="28.52" width="12.57" height="12.52" fill="#fff5e8"/>
<rect x="423.25" y="41.04" width="12.57" height="12.52" fill="#fff4e5"/>
<rect x="435.82" y="41.04" width="12.57" height="12.52" fill="#fff4e5"/>
<rect x="448.40" y="41.04" width="12.57" height="12.52" fill="#f87f53"/>
<rect x="460.98" y="41.04" width="12.57" height="12.52" fill="#fdd29c"/>
<rect x="473.55" y="41.04" width="12.57" height="12.52" fill="#fee3be"/>
<rect x="448.40" y="53.56" width="12.57" height="12.52" fill="#feebce"/>
<rect x="460.98" y="53.56" width="12.57" height="12.52" fill="#f4734e"/>
<rect x="473.55" y="53.56" width="12.57" height="12.52" fill="#fdcd97"/>
<rect x="498.70" y="53.56" width="12.57" height="12.52" fill="#fff4e5"/>
<rect x="460.98" y="66.08" width="12.57" height="12.52" fill="#fff2e1"/>
<rect x="473.55" y="66.08" width="12.57" height="12.52" fill="#920000"/>
<rect x="486.12" y="66.08" width="12.57" height="12.52" fill="#fff5e8"/>
<rect x="460.98" y="78.59" width="12.57" height="12.52" fill="#fff5e8"/>
<rect x="486.12" y="78.59" width="12.57" height="12.52" fill="#b70202"/>
<rect x="498.70" y="78.59" width="12.57" height="12.52" fill="#feeed6"/>
<rect x="511.27" y="78.59" width="12.57" height="12.52" fill="#fff5e8"/>
<rect x="486.12" y="91.11" width="12.57" height="12.52" fill="#fff2e1"/>
<rect x="498.70" y="91.11" width="12.57" height="12.52" fill="#8e0000"/>
<rect x="423.25" y="103.63" width="12.57" height="12.52" fill="#fff5e8"/>
<rect x="435.82" y="103.63" width="12.57" height="12.52" fill="#fff5e8"/>
<rect x="486.12" y="103.63" width="12.57" height="12.52" fill="#feefd9"/>
<rect x="498.70" y="103.63" width="12.57" height="12.52" fill="#fff2e1"/>
<rect x="511.27" y="103.63" width="12.57" height="12.52" fill="#ba0504"/>
<rect x="423.25" y="16.00" width="100.60" height="100.15" fill="none" stroke="#555" stroke-width="0.45"/>
<text class="m d" transform="translate(429.54 23.06) scale(0.100)" font-size="29.0" text-anchor="middle" textLength="23.0" lengthAdjust="spacingAndGlyphs">60</text>
<text class="m d" transform="translate(442.11 23.06) scale(0.100)" font-size="29.0" text-anchor="middle" textLength="23.0" lengthAdjust="spacingAndGlyphs">18</text>
<text class="m d" transform="translate(454.69 23.06) scale(0.100)" font-size="29.0" text-anchor="middle" textLength="11.5" lengthAdjust="spacingAndGlyphs">1</text>
<text class="m d" transform="translate(467.26 23.06) scale(0.100)" font-size="29.0" text-anchor="middle" textLength="11.5" lengthAdjust="spacingAndGlyphs">0</text>
<text class="m d" transform="translate(479.84 23.06) scale(0.100)" font-size="29.0" text-anchor="middle" textLength="11.5" lengthAdjust="spacingAndGlyphs">0</text>
<text class="m d" transform="translate(492.41 23.06) scale(0.100)" font-size="29.0" text-anchor="middle" textLength="11.5" lengthAdjust="spacingAndGlyphs">0</text>
<text class="m d" transform="translate(504.99 23.06) scale(0.100)" font-size="29.0" text-anchor="middle" textLength="11.5" lengthAdjust="spacingAndGlyphs">0</text>
<text class="m d" transform="translate(517.56 23.06) scale(0.100)" font-size="29.0" text-anchor="middle" textLength="11.5" lengthAdjust="spacingAndGlyphs">0</text>
<text class="m d" transform="translate(429.54 35.58) scale(0.100)" font-size="29.0" text-anchor="middle" textLength="23.0" lengthAdjust="spacingAndGlyphs">11</text>
<text class="m d" transform="translate(442.11 35.58) scale(0.100)" font-size="29.0" text-anchor="middle" textLength="23.0" lengthAdjust="spacingAndGlyphs">68</text>
<text class="m d" transform="translate(454.69 35.58) scale(0.100)" font-size="29.0" text-anchor="middle" textLength="11.5" lengthAdjust="spacingAndGlyphs">1</text>
<text class="m d" transform="translate(467.26 35.58) scale(0.100)" font-size="29.0" text-anchor="middle" textLength="11.5" lengthAdjust="spacingAndGlyphs">0</text>
<text class="m d" transform="translate(479.84 35.58) scale(0.100)" font-size="29.0" text-anchor="middle" textLength="11.5" lengthAdjust="spacingAndGlyphs">0</text>
<text class="m d" transform="translate(492.41 35.58) scale(0.100)" font-size="29.0" text-anchor="middle" textLength="11.5" lengthAdjust="spacingAndGlyphs">0</text>
<text class="m d" transform="translate(504.99 35.58) scale(0.100)" font-size="29.0" text-anchor="middle" textLength="11.5" lengthAdjust="spacingAndGlyphs">0</text>
<text class="m d" transform="translate(517.56 35.58) scale(0.100)" font-size="29.0" text-anchor="middle" textLength="11.5" lengthAdjust="spacingAndGlyphs">1</text>
<text class="m d" transform="translate(429.54 48.10) scale(0.100)" font-size="29.0" text-anchor="middle" textLength="11.5" lengthAdjust="spacingAndGlyphs">2</text>
<text class="m d" transform="translate(442.11 48.10) scale(0.100)" font-size="29.0" text-anchor="middle" textLength="11.5" lengthAdjust="spacingAndGlyphs">2</text>
<text class="m d" transform="translate(454.69 48.10) scale(0.100)" font-size="29.0" text-anchor="middle" textLength="23.0" lengthAdjust="spacingAndGlyphs">42</text>
<text class="m d" transform="translate(467.26 48.10) scale(0.100)" font-size="29.0" text-anchor="middle" textLength="23.0" lengthAdjust="spacingAndGlyphs">20</text>
<text class="m d" transform="translate(479.84 48.10) scale(0.100)" font-size="29.0" text-anchor="middle" textLength="23.0" lengthAdjust="spacingAndGlyphs">12</text>
<text class="m d" transform="translate(492.41 48.10) scale(0.100)" font-size="29.0" text-anchor="middle" textLength="11.5" lengthAdjust="spacingAndGlyphs">0</text>
<text class="m d" transform="translate(504.99 48.10) scale(0.100)" font-size="29.0" text-anchor="middle" textLength="11.5" lengthAdjust="spacingAndGlyphs">0</text>
<text class="m d" transform="translate(517.56 48.10) scale(0.100)" font-size="29.0" text-anchor="middle" textLength="11.5" lengthAdjust="spacingAndGlyphs">0</text>
<text class="m d" transform="translate(429.54 60.62) scale(0.100)" font-size="29.0" text-anchor="middle" textLength="11.5" lengthAdjust="spacingAndGlyphs">0</text>
<text class="m d" transform="translate(442.11 60.62) scale(0.100)" font-size="29.0" text-anchor="middle" textLength="11.5" lengthAdjust="spacingAndGlyphs">0</text>
<text class="m d" transform="translate(454.69 60.62) scale(0.100)" font-size="29.0" text-anchor="middle" textLength="11.5" lengthAdjust="spacingAndGlyphs">8</text>
<text class="m d" transform="translate(467.26 60.62) scale(0.100)" font-size="29.0" text-anchor="middle" textLength="23.0" lengthAdjust="spacingAndGlyphs">45</text>
<text class="m d" transform="translate(479.84 60.62) scale(0.100)" font-size="29.0" text-anchor="middle" textLength="23.0" lengthAdjust="spacingAndGlyphs">22</text>
<text class="m d" transform="translate(492.41 60.62) scale(0.100)" font-size="29.0" text-anchor="middle" textLength="11.5" lengthAdjust="spacingAndGlyphs">0</text>
<text class="m d" transform="translate(504.99 60.62) scale(0.100)" font-size="29.0" text-anchor="middle" textLength="11.5" lengthAdjust="spacingAndGlyphs">2</text>
<text class="m d" transform="translate(517.56 60.62) scale(0.100)" font-size="29.0" text-anchor="middle" textLength="11.5" lengthAdjust="spacingAndGlyphs">0</text>
<text class="m d" transform="translate(429.54 73.13) scale(0.100)" font-size="29.0" text-anchor="middle" textLength="11.5" lengthAdjust="spacingAndGlyphs">0</text>
<text class="m d" transform="translate(442.11 73.13) scale(0.100)" font-size="29.0" text-anchor="middle" textLength="11.5" lengthAdjust="spacingAndGlyphs">0</text>
<text class="m d" transform="translate(454.69 73.13) scale(0.100)" font-size="29.0" text-anchor="middle" textLength="11.5" lengthAdjust="spacingAndGlyphs">0</text>
<text class="m d" transform="translate(467.26 73.13) scale(0.100)" font-size="29.0" text-anchor="middle" textLength="11.5" lengthAdjust="spacingAndGlyphs">3</text>
<text class="m d" transform="translate(479.84 73.13) scale(0.100)" font-size="29.0" text-anchor="middle" textLength="23.0" lengthAdjust="spacingAndGlyphs">76</text>
<text class="m d" transform="translate(492.41 73.13) scale(0.100)" font-size="29.0" text-anchor="middle" textLength="11.5" lengthAdjust="spacingAndGlyphs">1</text>
<text class="m d" transform="translate(504.99 73.13) scale(0.100)" font-size="29.0" text-anchor="middle" textLength="11.5" lengthAdjust="spacingAndGlyphs">0</text>
<text class="m d" transform="translate(517.56 73.13) scale(0.100)" font-size="29.0" text-anchor="middle" textLength="11.5" lengthAdjust="spacingAndGlyphs">0</text>
<text class="m d" transform="translate(429.54 85.65) scale(0.100)" font-size="29.0" text-anchor="middle" textLength="11.5" lengthAdjust="spacingAndGlyphs">0</text>
<text class="m d" transform="translate(442.11 85.65) scale(0.100)" font-size="29.0" text-anchor="middle" textLength="11.5" lengthAdjust="spacingAndGlyphs">0</text>
<text class="m d" transform="translate(454.69 85.65) scale(0.100)" font-size="29.0" text-anchor="middle" textLength="11.5" lengthAdjust="spacingAndGlyphs">0</text>
<text class="m d" transform="translate(467.26 85.65) scale(0.100)" font-size="29.0" text-anchor="middle" textLength="11.5" lengthAdjust="spacingAndGlyphs">1</text>
<text class="m d" transform="translate(479.84 85.65) scale(0.100)" font-size="29.0" text-anchor="middle" textLength="11.5" lengthAdjust="spacingAndGlyphs">0</text>
<text class="m d" transform="translate(492.41 85.65) scale(0.100)" font-size="29.0" text-anchor="middle" textLength="23.0" lengthAdjust="spacingAndGlyphs">68</text>
<text class="m d" transform="translate(504.99 85.65) scale(0.100)" font-size="29.0" text-anchor="middle" textLength="11.5" lengthAdjust="spacingAndGlyphs">6</text>
<text class="m d" transform="translate(517.56 85.65) scale(0.100)" font-size="29.0" text-anchor="middle" textLength="11.5" lengthAdjust="spacingAndGlyphs">1</text>
<text class="m d" transform="translate(429.54 98.17) scale(0.100)" font-size="29.0" text-anchor="middle" textLength="11.5" lengthAdjust="spacingAndGlyphs">0</text>
<text class="m d" transform="translate(442.11 98.17) scale(0.100)" font-size="29.0" text-anchor="middle" textLength="11.5" lengthAdjust="spacingAndGlyphs">0</text>
<text class="m d" transform="translate(454.69 98.17) scale(0.100)" font-size="29.0" text-anchor="middle" textLength="11.5" lengthAdjust="spacingAndGlyphs">0</text>
<text class="m d" transform="translate(467.26 98.17) scale(0.100)" font-size="29.0" text-anchor="middle" textLength="11.5" lengthAdjust="spacingAndGlyphs">0</text>
<text class="m d" transform="translate(479.84 98.17) scale(0.100)" font-size="29.0" text-anchor="middle" textLength="11.5" lengthAdjust="spacingAndGlyphs">0</text>
<text class="m d" transform="translate(492.41 98.17) scale(0.100)" font-size="29.0" text-anchor="middle" textLength="11.5" lengthAdjust="spacingAndGlyphs">3</text>
<text class="m d" transform="translate(504.99 98.17) scale(0.100)" font-size="29.0" text-anchor="middle" textLength="23.0" lengthAdjust="spacingAndGlyphs">77</text>
<text class="m d" transform="translate(517.56 98.17) scale(0.100)" font-size="29.0" text-anchor="middle" textLength="11.5" lengthAdjust="spacingAndGlyphs">0</text>
<text class="m d" transform="translate(429.54 110.69) scale(0.100)" font-size="29.0" text-anchor="middle" textLength="11.5" lengthAdjust="spacingAndGlyphs">1</text>
<text class="m d" transform="translate(442.11 110.69) scale(0.100)" font-size="29.0" text-anchor="middle" textLength="11.5" lengthAdjust="spacingAndGlyphs">1</text>
<text class="m d" transform="translate(454.69 110.69) scale(0.100)" font-size="29.0" text-anchor="middle" textLength="11.5" lengthAdjust="spacingAndGlyphs">0</text>
<text class="m d" transform="translate(467.26 110.69) scale(0.100)" font-size="29.0" text-anchor="middle" textLength="11.5" lengthAdjust="spacingAndGlyphs">0</text>
<text class="m d" transform="translate(479.84 110.69) scale(0.100)" font-size="29.0" text-anchor="middle" textLength="11.5" lengthAdjust="spacingAndGlyphs">0</text>
<text class="m d" transform="translate(492.41 110.69) scale(0.100)" font-size="29.0" text-anchor="middle" textLength="11.5" lengthAdjust="spacingAndGlyphs">5</text>
<text class="m d" transform="translate(504.99 110.69) scale(0.100)" font-size="29.0" text-anchor="middle" textLength="11.5" lengthAdjust="spacingAndGlyphs">3</text>
<text class="m d" transform="translate(517.56 110.69) scale(0.100)" font-size="29.0" text-anchor="middle" textLength="23.0" lengthAdjust="spacingAndGlyphs">67</text>
<path d="M423.25 22.26h-1.5M429.54 116.15v1.6" stroke="#111" stroke-width="0.5" fill="none"/>
<text class="m" transform="translate(420.25 23.86) scale(0.100)" font-size="47.0" text-anchor="end" textLength="230.4" lengthAdjust="spacingAndGlyphs">NanjingYY108</text>
<text class="m" transform="translate(430.94 122.45) rotate(-30) scale(0.100)" font-size="47.0" text-anchor="end" textLength="228.0" lengthAdjust="spacingAndGlyphs" stroke-width="1.6">NanjingYY108</text>
<path d="M423.25 34.78h-1.5M442.11 116.15v1.6" stroke="#111" stroke-width="0.5" fill="none"/>
<text class="m" transform="translate(420.25 36.38) scale(0.100)" font-size="47.0" text-anchor="end" textLength="204.0" lengthAdjust="spacingAndGlyphs">Zhenghan10</text>
<text class="m" transform="translate(443.51 122.45) rotate(-30) scale(0.100)" font-size="47.0" text-anchor="end" textLength="202.0" lengthAdjust="spacingAndGlyphs" stroke-width="1.6">Zhenghan10</text>
<path d="M423.25 47.30h-1.5M454.69 116.15v1.6" stroke="#111" stroke-width="0.5" fill="none"/>
<text class="m" transform="translate(420.25 48.90) scale(0.100)" font-size="47.0" text-anchor="end" textLength="163.2" lengthAdjust="spacingAndGlyphs">Nanmus35</text>
<text class="m" transform="translate(456.09 122.45) rotate(-30) scale(0.100)" font-size="47.0" text-anchor="end" textLength="161.6" lengthAdjust="spacingAndGlyphs" stroke-width="1.6">Nanmus35</text>
<path d="M423.25 59.82h-1.5M467.26 116.15v1.6" stroke="#111" stroke-width="0.5" fill="none"/>
<text class="m" transform="translate(420.25 61.42) scale(0.100)" font-size="47.0" text-anchor="end" textLength="183.6" lengthAdjust="spacingAndGlyphs">Yuanhan35</text>
<text class="m" transform="translate(468.66 122.45) rotate(-30) scale(0.100)" font-size="47.0" text-anchor="end" textLength="181.8" lengthAdjust="spacingAndGlyphs" stroke-width="1.6">Yuanhan35</text>
<path d="M423.25 72.33h-1.5M479.84 116.15v1.6" stroke="#111" stroke-width="0.5" fill="none"/>
<text class="m" transform="translate(420.25 73.93) scale(0.100)" font-size="47.0" text-anchor="end" textLength="183.6" lengthAdjust="spacingAndGlyphs">Lianmuo13</text>
<text class="m" transform="translate(481.24 122.45) rotate(-30) scale(0.100)" font-size="47.0" text-anchor="end" textLength="181.8" lengthAdjust="spacingAndGlyphs" stroke-width="1.6">Lianmuo13</text>
<path d="M423.25 84.85h-1.5M492.41 116.15v1.6" stroke="#111" stroke-width="0.5" fill="none"/>
<text class="m" transform="translate(420.25 86.45) scale(0.100)" font-size="47.0" text-anchor="end" textLength="142.8" lengthAdjust="spacingAndGlyphs">Nyou518</text>
<text class="m" transform="translate(493.81 122.45) rotate(-30) scale(0.100)" font-size="47.0" text-anchor="end" textLength="141.4" lengthAdjust="spacingAndGlyphs" stroke-width="1.6">Nyou518</text>
<path d="M423.25 97.37h-1.5M504.99 116.15v1.6" stroke="#111" stroke-width="0.5" fill="none"/>
<text class="m" transform="translate(420.25 98.97) scale(0.100)" font-size="47.0" text-anchor="end" textLength="244.8" lengthAdjust="spacingAndGlyphs">Huanghuaihan</text>
<text class="m" transform="translate(506.39 122.45) rotate(-30) scale(0.100)" font-size="47.0" text-anchor="end" textLength="242.4" lengthAdjust="spacingAndGlyphs" stroke-width="1.6">Huanghuaihan</text>
<path d="M423.25 109.89h-1.5M517.56 116.15v1.6" stroke="#111" stroke-width="0.5" fill="none"/>
<text class="m" transform="translate(420.25 111.49) scale(0.100)" font-size="47.0" text-anchor="end" textLength="122.4" lengthAdjust="spacingAndGlyphs">Liusha</text>
<text class="m" transform="translate(518.96 122.45) rotate(-30) scale(0.100)" font-size="47.0" text-anchor="end" textLength="121.2" lengthAdjust="spacingAndGlyphs" stroke-width="1.6">Liusha</text>
<text class="m" transform="translate(393.50 66.67) rotate(-90) scale(0.100)" font-size="46.0" text-anchor="middle" textLength="246.0" lengthAdjust="spacingAndGlyphs">Actual label</text>
<text class="m" transform="translate(473.30 140.35) scale(0.100)" font-size="48.0" text-anchor="middle" textLength="269.1" lengthAdjust="spacingAndGlyphs">Predict label</text>
<text class="m" transform="translate(473.20 8.55) scale(0.100)" font-size="55.0" text-anchor="middle" textLength="69.0" lengthAdjust="spacingAndGlyphs" stroke-width="1.2">CNN</text>
<text class="m" transform="translate(473.20 13.65) scale(0.100)" font-size="55.0" text-anchor="middle" textLength="475.0" lengthAdjust="spacingAndGlyphs" stroke-width="0.4">Acc=0.79 Error=0.21</text>
<rect x="532.05" y="16.00" width="5.20" height="100.15" fill="url(#g)" stroke="#444" stroke-width="0.4"/>
<path d="M537.25 116.15h1.5" stroke="#333" stroke-width="0.4"/>
<text class="m" transform="translate(539.75 117.65) scale(0.100)" font-size="47.0" text-anchor="start" textLength="20.0" lengthAdjust="spacingAndGlyphs">0</text>
<path d="M537.25 103.21h1.5" stroke="#333" stroke-width="0.4"/>
<text class="m" transform="translate(539.75 104.71) scale(0.100)" font-size="47.0" text-anchor="start" textLength="40.0" lengthAdjust="spacingAndGlyphs">10</text>
<path d="M537.25 90.27h1.5" stroke="#333" stroke-width="0.4"/>
<text class="m" transform="translate(539.75 91.77) scale(0.100)" font-size="47.0" text-anchor="start" textLength="40.0" lengthAdjust="spacingAndGlyphs">20</text>
<path d="M537.25 77.33h1.5" stroke="#333" stroke-width="0.4"/>
<text class="m" transform="translate(539.75 78.83) scale(0.100)" font-size="47.0" text-anchor="start" textLength="40.0" lengthAdjust="spacingAndGlyphs">30</text>
<path d="M537.25 64.39h1.5" stroke="#333" stroke-width="0.4"/>
<text class="m" transform="translate(539.75 65.89) scale(0.100)" font-size="47.0" text-anchor="start" textLength="40.0" lengthAdjust="spacingAndGlyphs">40</text>
<path d="M537.25 51.45h1.5" stroke="#333" stroke-width="0.4"/>
<text class="m" transform="translate(539.75 52.95) scale(0.100)" font-size="47.0" text-anchor="start" textLength="40.0" lengthAdjust="spacingAndGlyphs">50</text>
<path d="M537.25 38.51h1.5" stroke="#333" stroke-width="0.4"/>
<text class="m" transform="translate(539.75 40.01) scale(0.100)" font-size="47.0" text-anchor="start" textLength="40.0" lengthAdjust="spacingAndGlyphs">60</text>
<path d="M537.25 25.58h1.5" stroke="#333" stroke-width="0.4"/>
<text class="m" transform="translate(539.75 27.08) scale(0.100)" font-size="47.0" text-anchor="start" textLength="40.0" lengthAdjust="spacingAndGlyphs">70</text>
<text class="s" transform="translate(465.80 150.75) scale(0.100)" font-size="82.0" text-anchor="middle" stroke="#111" stroke-width="1.5">(c)</text>
</g>
<g>
<rect x="39.25" y="168.00" width="100.60" height="100.15" fill="#fff7ec"/>
<rect x="39.25" y="168.00" width="12.57" height="12.52" fill="#ba0604"/>
<rect x="51.83" y="168.00" width="12.57" height="12.52" fill="#fee9cb"/>
<rect x="39.25" y="180.52" width="12.57" height="12.52" fill="#fff4e5"/>
<rect x="51.83" y="180.52" width="12.57" height="12.52" fill="#aa0101"/>
<rect x="89.55" y="180.52" width="12.57" height="12.52" fill="#fff5e8"/>
<rect x="127.27" y="180.52" width="12.57" height="12.52" fill="#fff5e8"/>
<rect x="39.25" y="193.04" width="12.57" height="12.52" fill="#fff5e8"/>
<rect x="51.83" y="193.04" width="12.57" height="12.52" fill="#fff5e8"/>
<rect x="64.40" y="193.04" width="12.57" height="12.52" fill="#e1452f"/>
<rect x="76.97" y="193.04" width="12.57" height="12.52" fill="#fdd39d"/>
<rect x="89.55" y="193.04" width="12.57" height="12.52" fill="#fff4e5"/>
<rect x="39.25" y="205.56" width="12.57" height="12.52" fill="#fff5e8"/>
<rect x="64.40" y="205.56" width="12.57" height="12.52" fill="#feefda"/>
<rect x="76.97" y="205.56" width="12.57" height="12.52" fill="#c10f0a"/>
<rect x="89.55" y="205.56" width="12.57" height="12.52" fill="#fee8c7"/>
<rect x="64.40" y="218.07" width="12.57" height="12.52" fill="#fff5e8"/>
<rect x="76.97" y="218.07" width="12.57" height="12.52" fill="#feecd2"/>
<rect x="89.55" y="218.07" width="12.57" height="12.52" fill="#ae0202"/>
<rect x="114.70" y="218.07" width="12.57" height="12.52" fill="#fff5e8"/>
<rect x="102.12" y="230.59" width="12.57" height="12.52" fill="#930000"/>
<rect x="114.70" y="243.11" width="12.57" height="12.52" fill="#8f0000"/>
<rect x="127.27" y="243.11" width="12.57" height="12.52" fill="#fff5e8"/>
<rect x="114.70" y="255.63" width="12.57" height="12.52" fill="#fff4e5"/>
<rect x="127.27" y="255.63" width="12.57" height="12.52" fill="#980101"/>
<rect x="39.25" y="168.00" width="100.60" height="100.15" fill="none" stroke="#555" stroke-width="0.45"/>
<text class="m d" transform="translate(45.54 175.06) scale(0.100)" font-size="29.0" text-anchor="middle" textLength="23.0" lengthAdjust="spacingAndGlyphs">68</text>
<text class="m d" transform="translate(58.11 175.06) scale(0.100)" font-size="29.0" text-anchor="middle" textLength="11.5" lengthAdjust="spacingAndGlyphs">9</text>
<text class="m d" transform="translate(70.69 175.06) scale(0.100)" font-size="29.0" text-anchor="middle" textLength="11.5" lengthAdjust="spacingAndGlyphs">0</text>
<text class="m d" transform="translate(83.26 175.06) scale(0.100)" font-size="29.0" text-anchor="middle" textLength="11.5" lengthAdjust="spacingAndGlyphs">0</text>
<text class="m d" transform="translate(95.84 175.06) scale(0.100)" font-size="29.0" text-anchor="middle" textLength="11.5" lengthAdjust="spacingAndGlyphs">0</text>
<text class="m d" transform="translate(108.41 175.06) scale(0.100)" font-size="29.0" text-anchor="middle" textLength="11.5" lengthAdjust="spacingAndGlyphs">0</text>
<text class="m d" transform="translate(120.99 175.06) scale(0.100)" font-size="29.0" text-anchor="middle" textLength="11.5" lengthAdjust="spacingAndGlyphs">0</text>
<text class="m d" transform="translate(133.56 175.06) scale(0.100)" font-size="29.0" text-anchor="middle" textLength="11.5" lengthAdjust="spacingAndGlyphs">0</text>
<text class="m d" transform="translate(45.54 187.58) scale(0.100)" font-size="29.0" text-anchor="middle" textLength="11.5" lengthAdjust="spacingAndGlyphs">2</text>
<text class="m d" transform="translate(58.11 187.58) scale(0.100)" font-size="29.0" text-anchor="middle" textLength="23.0" lengthAdjust="spacingAndGlyphs">72</text>
<text class="m d" transform="translate(70.69 187.58) scale(0.100)" font-size="29.0" text-anchor="middle" textLength="11.5" lengthAdjust="spacingAndGlyphs">0</text>
<text class="m d" transform="translate(83.26 187.58) scale(0.100)" font-size="29.0" text-anchor="middle" textLength="11.5" lengthAdjust="spacingAndGlyphs">0</text>
<text class="m d" transform="translate(95.84 187.58) scale(0.100)" font-size="29.0" text-anchor="middle" textLength="11.5" lengthAdjust="spacingAndGlyphs">1</text>
<text class="m d" transform="translate(108.41 187.58) scale(0.100)" font-size="29.0" text-anchor="middle" textLength="11.5" lengthAdjust="spacingAndGlyphs">0</text>
<text class="m d" transform="translate(120.99 187.58) scale(0.100)" font-size="29.0" text-anchor="middle" textLength="11.5" lengthAdjust="spacingAndGlyphs">0</text>
<text class="m d" transform="translate(133.56 187.58) scale(0.100)" font-size="29.0" text-anchor="middle" textLength="11.5" lengthAdjust="spacingAndGlyphs">1</text>
<text class="m d" transform="translate(45.54 200.10) scale(0.100)" font-size="29.0" text-anchor="middle" textLength="11.5" lengthAdjust="spacingAndGlyphs">1</text>
<text class="m d" transform="translate(58.11 200.10) scale(0.100)" font-size="29.0" text-anchor="middle" textLength="11.5" lengthAdjust="spacingAndGlyphs">1</text>
<text class="m d" transform="translate(70.69 200.10) scale(0.100)" font-size="29.0" text-anchor="middle" textLength="23.0" lengthAdjust="spacingAndGlyphs">55</text>
<text class="m d" transform="translate(83.26 200.10) scale(0.100)" font-size="29.0" text-anchor="middle" textLength="23.0" lengthAdjust="spacingAndGlyphs">20</text>
<text class="m d" transform="translate(95.84 200.10) scale(0.100)" font-size="29.0" text-anchor="middle" textLength="11.5" lengthAdjust="spacingAndGlyphs">2</text>
<text class="m d" transform="translate(108.41 200.10) scale(0.100)" font-size="29.0" text-anchor="middle" textLength="11.5" lengthAdjust="spacingAndGlyphs">0</text>
<text class="m d" transform="translate(120.99 200.10) scale(0.100)" font-size="29.0" text-anchor="middle" textLength="11.5" lengthAdjust="spacingAndGlyphs">0</text>
<text class="m d" transform="translate(133.56 200.10) scale(0.100)" font-size="29.0" text-anchor="middle" textLength="11.5" lengthAdjust="spacingAndGlyphs">0</text>
<text class="m d" transform="translate(45.54 212.62) scale(0.100)" font-size="29.0" text-anchor="middle" textLength="11.5" lengthAdjust="spacingAndGlyphs">1</text>
<text class="m d" transform="translate(58.11 212.62) scale(0.100)" font-size="29.0" text-anchor="middle" textLength="11.5" lengthAdjust="spacingAndGlyphs">0</text>
<text class="m d" transform="translate(70.69 212.62) scale(0.100)" font-size="29.0" text-anchor="middle" textLength="11.5" lengthAdjust="spacingAndGlyphs">5</text>
<text class="m d" transform="translate(83.26 212.62) scale(0.100)" font-size="29.0" text-anchor="middle" textLength="23.0" lengthAdjust="spacingAndGlyphs">66</text>
<text class="m d" transform="translate(95.84 212.62) scale(0.100)" font-size="29.0" text-anchor="middle" textLength="23.0" lengthAdjust="spacingAndGlyphs">10</text>
<text class="m d" transform="translate(108.41 212.62) scale(0.100)" font-size="29.0" text-anchor="middle" textLength="11.5" lengthAdjust="spacingAndGlyphs">0</text>
<text class="m d" transform="translate(120.99 212.62) scale(0.100)" font-size="29.0" text-anchor="middle" textLength="11.5" lengthAdjust="spacingAndGlyphs">0</text>
<text class="m d" transform="translate(133.56 212.62) scale(0.100)" font-size="29.0" text-anchor="middle" textLength="11.5" lengthAdjust="spacingAndGlyphs">0</text>
<text class="m d" transform="translate(45.54 225.13) scale(0.100)" font-size="29.0" text-anchor="middle" textLength="11.5" lengthAdjust="spacingAndGlyphs">0</text>
<text class="m d" transform="translate(58.11 225.13) scale(0.100)" font-size="29.0" text-anchor="middle" textLength="11.5" lengthAdjust="spacingAndGlyphs">0</text>
<text class="m d" transform="translate(70.69 225.13) scale(0.100)" font-size="29.0" text-anchor="middle" textLength="11.5" lengthAdjust="spacingAndGlyphs">1</text>
<text class="m d" transform="translate(83.26 225.13) scale(0.100)" font-size="29.0" text-anchor="middle" textLength="11.5" lengthAdjust="spacingAndGlyphs">7</text>
<text class="m d" transform="translate(95.84 225.13) scale(0.100)" font-size="29.0" text-anchor="middle" textLength="23.0" lengthAdjust="spacingAndGlyphs">71</text>
<text class="m d" transform="translate(108.41 225.13) scale(0.100)" font-size="29.0" text-anchor="middle" textLength="11.5" lengthAdjust="spacingAndGlyphs">0</text>
<text class="m d" transform="translate(120.99 225.13) scale(0.100)" font-size="29.0" text-anchor="middle" textLength="11.5" lengthAdjust="spacingAndGlyphs">1</text>
<text class="m d" transform="translate(133.56 225.13) scale(0.100)" font-size="29.0" text-anchor="middle" textLength="11.5" lengthAdjust="spacingAndGlyphs">0</text>
<text class="m d" transform="translate(45.54 237.65) scale(0.100)" font-size="29.0" text-anchor="middle" textLength="11.5" lengthAdjust="spacingAndGlyphs">0</text>
<text class="m d" transform="translate(58.11 237.65) scale(0.100)" font-size="29.0" text-anchor="middle" textLength="11.5" lengthAdjust="spacingAndGlyphs">0</text>
<text class="m d" transform="translate(70.69 237.65) scale(0.100)" font-size="29.0" text-anchor="middle" textLength="11.5" lengthAdjust="spacingAndGlyphs">0</text>
<text class="m d" transform="translate(83.26 237.65) scale(0.100)" font-size="29.0" text-anchor="middle" textLength="11.5" lengthAdjust="spacingAndGlyphs">0</text>
<text class="m d" transform="translate(95.84 237.65) scale(0.100)" font-size="29.0" text-anchor="middle" textLength="11.5" lengthAdjust="spacingAndGlyphs">0</text>
<text class="m d" transform="translate(108.41 237.65) scale(0.100)" font-size="29.0" text-anchor="middle" textLength="23.0" lengthAdjust="spacingAndGlyphs">77</text>
<text class="m d" transform="translate(120.99 237.65) scale(0.100)" font-size="29.0" text-anchor="middle" textLength="11.5" lengthAdjust="spacingAndGlyphs">0</text>
<text class="m d" transform="translate(133.56 237.65) scale(0.100)" font-size="29.0" text-anchor="middle" textLength="11.5" lengthAdjust="spacingAndGlyphs">0</text>
<text class="m d" transform="translate(45.54 250.17) scale(0.100)" font-size="29.0" text-anchor="middle" textLength="11.5" lengthAdjust="spacingAndGlyphs">0</text>
<text class="m d" transform="translate(58.11 250.17) scale(0.100)" font-size="29.0" text-anchor="middle" textLength="11.5" lengthAdjust="spacingAndGlyphs">0</text>
<text class="m d" transform="translate(70.69 250.17) scale(0.100)" font-size="29.0" text-anchor="middle" textLength="11.5" lengthAdjust="spacingAndGlyphs">0</text>
<text class="m d" transform="translate(83.26 250.17) scale(0.100)" font-size="29.0" text-anchor="middle" textLength="11.5" lengthAdjust="spacingAndGlyphs">0</text>
<text class="m d" transform="translate(95.84 250.17) scale(0.100)" font-size="29.0" text-anchor="middle" textLength="11.5" lengthAdjust="spacingAndGlyphs">0</text>
<text class="m d" transform="translate(108.41 250.17) scale(0.100)" font-size="29.0" text-anchor="middle" textLength="11.5" lengthAdjust="spacingAndGlyphs">0</text>
<text class="m d" transform="translate(120.99 250.17) scale(0.100)" font-size="29.0" text-anchor="middle" textLength="23.0" lengthAdjust="spacingAndGlyphs">78</text>
<text class="m d" transform="translate(133.56 250.17) scale(0.100)" font-size="29.0" text-anchor="middle" textLength="11.5" lengthAdjust="spacingAndGlyphs">1</text>
<text class="m d" transform="translate(45.54 262.69) scale(0.100)" font-size="29.0" text-anchor="middle" textLength="11.5" lengthAdjust="spacingAndGlyphs">0</text>
<text class="m d" transform="translate(58.11 262.69) scale(0.100)" font-size="29.0" text-anchor="middle" textLength="11.5" lengthAdjust="spacingAndGlyphs">0</text>
<text class="m d" transform="translate(70.69 262.69) scale(0.100)" font-size="29.0" text-anchor="middle" textLength="11.5" lengthAdjust="spacingAndGlyphs">0</text>
<text class="m d" transform="translate(83.26 262.69) scale(0.100)" font-size="29.0" text-anchor="middle" textLength="11.5" lengthAdjust="spacingAndGlyphs">0</text>
<text class="m d" transform="translate(95.84 262.69) scale(0.100)" font-size="29.0" text-anchor="middle" textLength="11.5" lengthAdjust="spacingAndGlyphs">0</text>
<text class="m d" transform="translate(108.41 262.69) scale(0.100)" font-size="29.0" text-anchor="middle" textLength="11.5" lengthAdjust="spacingAndGlyphs">0</text>
<text class="m d" transform="translate(120.99 262.69) scale(0.100)" font-size="29.0" text-anchor="middle" textLength="11.5" lengthAdjust="spacingAndGlyphs">2</text>
<text class="m d" transform="translate(133.56 262.69) scale(0.100)" font-size="29.0" text-anchor="middle" textLength="23.0" lengthAdjust="spacingAndGlyphs">76</text>
<path d="M39.25 174.26h-1.5M45.54 268.15v1.6" stroke="#111" stroke-width="0.5" fill="none"/>
<text class="m" transform="translate(36.25 175.86) scale(0.100)" font-size="47.0" text-anchor="end" textLength="230.4" lengthAdjust="spacingAndGlyphs">NanjingYY108</text>
<text class="m" transform="translate(46.94 274.45) rotate(-30) scale(0.100)" font-size="47.0" text-anchor="end" textLength="228.0" lengthAdjust="spacingAndGlyphs" stroke-width="1.6">NanjingYY108</text>
<path d="M39.25 186.78h-1.5M58.11 268.15v1.6" stroke="#111" stroke-width="0.5" fill="none"/>
<text class="m" transform="translate(36.25 188.38) scale(0.100)" font-size="47.0" text-anchor="end" textLength="204.0" lengthAdjust="spacingAndGlyphs">Zhenghan10</text>
<text class="m" transform="translate(59.51 274.45) rotate(-30) scale(0.100)" font-size="47.0" text-anchor="end" textLength="202.0" lengthAdjust="spacingAndGlyphs" stroke-width="1.6">Zhenghan10</text>
<path d="M39.25 199.30h-1.5M70.69 268.15v1.6" stroke="#111" stroke-width="0.5" fill="none"/>
<text class="m" transform="translate(36.25 200.90) scale(0.100)" font-size="47.0" text-anchor="end" textLength="163.2" lengthAdjust="spacingAndGlyphs">Nanmus35</text>
<text class="m" transform="translate(72.09 274.45) rotate(-30) scale(0.100)" font-size="47.0" text-anchor="end" textLength="161.6" lengthAdjust="spacingAndGlyphs" stroke-width="1.6">Nanmus35</text>
<path d="M39.25 211.82h-1.5M83.26 268.15v1.6" stroke="#111" stroke-width="0.5" fill="none"/>
<text class="m" transform="translate(36.25 213.42) scale(0.100)" font-size="47.0" text-anchor="end" textLength="183.6" lengthAdjust="spacingAndGlyphs">Yuanhan35</text>
<text class="m" transform="translate(84.66 274.45) rotate(-30) scale(0.100)" font-size="47.0" text-anchor="end" textLength="181.8" lengthAdjust="spacingAndGlyphs" stroke-width="1.6">Yuanhan35</text>
<path d="M39.25 224.33h-1.5M95.84 268.15v1.6" stroke="#111" stroke-width="0.5" fill="none"/>
<text class="m" transform="translate(36.25 225.93) scale(0.100)" font-size="47.0" text-anchor="end" textLength="183.6" lengthAdjust="spacingAndGlyphs">Lianmuo13</text>
<text class="m" transform="translate(97.24 274.45) rotate(-30) scale(0.100)" font-size="47.0" text-anchor="end" textLength="181.8" lengthAdjust="spacingAndGlyphs" stroke-width="1.6">Lianmuo13</text>
<path d="M39.25 236.85h-1.5M108.41 268.15v1.6" stroke="#111" stroke-width="0.5" fill="none"/>
<text class="m" transform="translate(36.25 238.45) scale(0.100)" font-size="47.0" text-anchor="end" textLength="142.8" lengthAdjust="spacingAndGlyphs">Nyou518</text>
<text class="m" transform="translate(109.81 274.45) rotate(-30) scale(0.100)" font-size="47.0" text-anchor="end" textLength="141.4" lengthAdjust="spacingAndGlyphs" stroke-width="1.6">Nyou518</text>
<path d="M39.25 249.37h-1.5M120.99 268.15v1.6" stroke="#111" stroke-width="0.5" fill="none"/>
<text class="m" transform="translate(36.25 250.97) scale(0.100)" font-size="47.0" text-anchor="end" textLength="244.8" lengthAdjust="spacingAndGlyphs">Huanghuaihan</text>
<text class="m" transform="translate(122.39 274.45) rotate(-30) scale(0.100)" font-size="47.0" text-anchor="end" textLength="242.4" lengthAdjust="spacingAndGlyphs" stroke-width="1.6">Huanghuaihan</text>
<path d="M39.25 261.89h-1.5M133.56 268.15v1.6" stroke="#111" stroke-width="0.5" fill="none"/>
<text class="m" transform="translate(36.25 263.49) scale(0.100)" font-size="47.0" text-anchor="end" textLength="122.4" lengthAdjust="spacingAndGlyphs">Liusha</text>
<text class="m" transform="translate(134.96 274.45) rotate(-30) scale(0.100)" font-size="47.0" text-anchor="end" textLength="121.2" lengthAdjust="spacingAndGlyphs" stroke-width="1.6">Liusha</text>
<text class="m" transform="translate(9.50 218.67) rotate(-90) scale(0.100)" font-size="46.0" text-anchor="middle" textLength="246.0" lengthAdjust="spacingAndGlyphs">Actual label</text>
<text class="m" transform="translate(89.30 292.35) scale(0.100)" font-size="48.0" text-anchor="middle" textLength="269.1" lengthAdjust="spacingAndGlyphs">Predict label</text>
<text class="m" transform="translate(89.20 160.55) scale(0.100)" font-size="55.0" text-anchor="middle" textLength="215.1" lengthAdjust="spacingAndGlyphs" stroke-width="1.2">MobileNet</text>
<text class="m" transform="translate(89.20 165.65) scale(0.100)" font-size="55.0" text-anchor="middle" textLength="475.0" lengthAdjust="spacingAndGlyphs" stroke-width="0.4">Acc=0.89 Error=0.11</text>
<rect x="148.05" y="168.00" width="5.20" height="100.15" fill="url(#g)" stroke="#444" stroke-width="0.4"/>
<path d="M153.25 268.15h1.5" stroke="#333" stroke-width="0.4"/>
<text class="m" transform="translate(155.75 269.65) scale(0.100)" font-size="47.0" text-anchor="start" textLength="20.0" lengthAdjust="spacingAndGlyphs">0</text>
<path d="M153.25 255.41h1.5" stroke="#333" stroke-width="0.4"/>
<text class="m" transform="translate(155.75 256.91) scale(0.100)" font-size="47.0" text-anchor="start" textLength="40.0" lengthAdjust="spacingAndGlyphs">10</text>
<path d="M153.25 242.67h1.5" stroke="#333" stroke-width="0.4"/>
<text class="m" transform="translate(155.75 244.17) scale(0.100)" font-size="47.0" text-anchor="start" textLength="40.0" lengthAdjust="spacingAndGlyphs">20</text>
<path d="M153.25 229.92h1.5" stroke="#333" stroke-width="0.4"/>
<text class="m" transform="translate(155.75 231.42) scale(0.100)" font-size="47.0" text-anchor="start" textLength="40.0" lengthAdjust="spacingAndGlyphs">30</text>
<path d="M153.25 217.18h1.5" stroke="#333" stroke-width="0.4"/>
<text class="m" transform="translate(155.75 218.68) scale(0.100)" font-size="47.0" text-anchor="start" textLength="40.0" lengthAdjust="spacingAndGlyphs">40</text>
<path d="M153.25 204.44h1.5" stroke="#333" stroke-width="0.4"/>
<text class="m" transform="translate(155.75 205.94) scale(0.100)" font-size="47.0" text-anchor="start" textLength="40.0" lengthAdjust="spacingAndGlyphs">50</text>
<path d="M153.25 191.70h1.5" stroke="#333" stroke-width="0.4"/>
<text class="m" transform="translate(155.75 193.20) scale(0.100)" font-size="47.0" text-anchor="start" textLength="40.0" lengthAdjust="spacingAndGlyphs">60</text>
<path d="M153.25 178.96h1.5" stroke="#333" stroke-width="0.4"/>
<text class="m" transform="translate(155.75 180.46) scale(0.100)" font-size="47.0" text-anchor="start" textLength="40.0" lengthAdjust="spacingAndGlyphs">70</text>
<text class="s" transform="translate(81.80 302.75) scale(0.100)" font-size="82.0" text-anchor="middle" stroke="#111" stroke-width="1.5">(d)</text>
</g>
<g>
<rect x="231.25" y="168.00" width="100.60" height="100.15" fill="#fff7ec"/>
<rect x="231.25" y="168.00" width="12.57" height="12.52" fill="#9a0101"/>
<rect x="243.82" y="168.00" width="12.57" height="12.52" fill="#fff2e0"/>
<rect x="256.40" y="168.00" width="12.57" height="12.52" fill="#fff4e4"/>
<rect x="268.98" y="168.00" width="12.57" height="12.52" fill="#fff5e8"/>
<rect x="281.55" y="168.00" width="12.57" height="12.52" fill="#fff5e8"/>
<rect x="306.70" y="168.00" width="12.57" height="12.52" fill="#fff5e8"/>
<rect x="231.25" y="180.52" width="12.57" height="12.52" fill="#fff4e4"/>
<rect x="243.82" y="180.52" width="12.57" height="12.52" fill="#a40101"/>
<rect x="256.40" y="180.52" width="12.57" height="12.52" fill="#fff4e4"/>
<rect x="268.98" y="180.52" width="12.57" height="12.52" fill="#fff2e0"/>
<rect x="294.12" y="180.52" width="12.57" height="12.52" fill="#fff4e4"/>
<rect x="306.70" y="180.52" width="12.57" height="12.52" fill="#fff5e8"/>
<rect x="243.82" y="193.04" width="12.57" height="12.52" fill="#fff0dc"/>
<rect x="256.40" y="193.04" width="12.57" height="12.52" fill="#9f0101"/>
<rect x="268.98" y="193.04" width="12.57" height="12.52" fill="#fff2e0"/>
<rect x="281.55" y="193.04" width="12.57" height="12.52" fill="#fff5e8"/>
<rect x="294.12" y="193.04" width="12.57" height="12.52" fill="#fff5e8"/>
<rect x="231.25" y="205.56" width="12.57" height="12.52" fill="#fff5e8"/>
<rect x="243.82" y="205.56" width="12.57" height="12.52" fill="#fff4e4"/>
<rect x="256.40" y="205.56" width="12.57" height="12.52" fill="#fff4e4"/>
<rect x="268.98" y="205.56" width="12.57" height="12.52" fill="#a40101"/>
<rect x="294.12" y="205.56" width="12.57" height="12.52" fill="#fff4e4"/>
<rect x="306.70" y="205.56" width="12.57" height="12.52" fill="#fff5e8"/>
<rect x="231.25" y="218.07" width="12.57" height="12.52" fill="#fff5e8"/>
<rect x="243.82" y="218.07" width="12.57" height="12.52" fill="#fff5e8"/>
<rect x="256.40" y="218.07" width="12.57" height="12.52" fill="#fff0dc"/>
<rect x="268.98" y="218.07" width="12.57" height="12.52" fill="#fff5e8"/>
<rect x="281.55" y="218.07" width="12.57" height="12.52" fill="#a90101"/>
<rect x="294.12" y="218.07" width="12.57" height="12.52" fill="#fff5e8"/>
<rect x="306.70" y="218.07" width="12.57" height="12.52" fill="#fff4e4"/>
<rect x="231.25" y="230.59" width="12.57" height="12.52" fill="#fff5e8"/>
<rect x="243.82" y="230.59" width="12.57" height="12.52" fill="#fff4e4"/>
<rect x="256.40" y="230.59" width="12.57" height="12.52" fill="#fff4e4"/>
<rect x="294.12" y="230.59" width="12.57" height="12.52" fill="#9a0101"/>
<rect x="306.70" y="230.59" width="12.57" height="12.52" fill="#fff5e8"/>
<rect x="243.82" y="243.11" width="12.57" height="12.52" fill="#fff5e8"/>
<rect x="256.40" y="243.11" width="12.57" height="12.52" fill="#fff5e8"/>
<rect x="268.98" y="243.11" width="12.57" height="12.52" fill="#fff4e4"/>
<rect x="281.55" y="243.11" width="12.57" height="12.52" fill="#fff5e8"/>
<rect x="294.12" y="243.11" width="12.57" height="12.52" fill="#fff5e8"/>
<rect x="306.70" y="243.11" width="12.57" height="12.52" fill="#9a0101"/>
<rect x="319.27" y="243.11" width="12.57" height="12.52" fill="#fff4e4"/>
<rect x="243.82" y="255.63" width="12.57" height="12.52" fill="#fff5e8"/>
<rect x="268.98" y="255.63" width="12.57" height="12.52" fill="#fff5e8"/>
<rect x="281.55" y="255.63" width="12.57" height="12.52" fill="#fff5e8"/>
<rect x="306.70" y="255.63" width="12.57" height="12.52" fill="#fff4e4"/>
<rect x="319.27" y="255.63" width="12.57" height="12.52" fill="#910000"/>
<rect x="231.25" y="168.00" width="100.60" height="100.15" fill="none" stroke="#555" stroke-width="0.45"/>
<text class="m d" transform="translate(237.54 175.06) scale(0.100)" font-size="29.0" text-anchor="middle" textLength="23.0" lengthAdjust="spacingAndGlyphs">70</text>
<text class="m d" transform="translate(250.11 175.06) scale(0.100)" font-size="29.0" text-anchor="middle" textLength="11.5" lengthAdjust="spacingAndGlyphs">3</text>
<text class="m d" transform="translate(262.69 175.06) scale(0.100)" font-size="29.0" text-anchor="middle" textLength="11.5" lengthAdjust="spacingAndGlyphs">2</text>
<text class="m d" transform="translate(275.26 175.06) scale(0.100)" font-size="29.0" text-anchor="middle" textLength="11.5" lengthAdjust="spacingAndGlyphs">1</text>
<text class="m d" transform="translate(287.84 175.06) scale(0.100)" font-size="29.0" text-anchor="middle" textLength="11.5" lengthAdjust="spacingAndGlyphs">1</text>
<text class="m d" transform="translate(300.41 175.06) scale(0.100)" font-size="29.0" text-anchor="middle" textLength="11.5" lengthAdjust="spacingAndGlyphs">0</text>
<text class="m d" transform="translate(312.99 175.06) scale(0.100)" font-size="29.0" text-anchor="middle" textLength="11.5" lengthAdjust="spacingAndGlyphs">1</text>
<text class="m d" transform="translate(325.56 175.06) scale(0.100)" font-size="29.0" text-anchor="middle" textLength="11.5" lengthAdjust="spacingAndGlyphs">0</text>
<text class="m d" transform="translate(237.54 187.58) scale(0.100)" font-size="29.0" text-anchor="middle" textLength="11.5" lengthAdjust="spacingAndGlyphs">2</text>
<text class="m d" transform="translate(250.11 187.58) scale(0.100)" font-size="29.0" text-anchor="middle" textLength="23.0" lengthAdjust="spacingAndGlyphs">68</text>
<text class="m d" transform="translate(262.69 187.58) scale(0.100)" font-size="29.0" text-anchor="middle" textLength="11.5" lengthAdjust="spacingAndGlyphs">2</text>
<text class="m d" transform="translate(275.26 187.58) scale(0.100)" font-size="29.0" text-anchor="middle" textLength="11.5" lengthAdjust="spacingAndGlyphs">3</text>
<text class="m d" transform="translate(287.84 187.58) scale(0.100)" font-size="29.0" text-anchor="middle" textLength="11.5" lengthAdjust="spacingAndGlyphs">0</text>
<text class="m d" transform="translate(300.41 187.58) scale(0.100)" font-size="29.0" text-anchor="middle" textLength="11.5" lengthAdjust="spacingAndGlyphs">2</text>
<text class="m d" transform="translate(312.99 187.58) scale(0.100)" font-size="29.0" text-anchor="middle" textLength="11.5" lengthAdjust="spacingAndGlyphs">1</text>
<text class="m d" transform="translate(325.56 187.58) scale(0.100)" font-size="29.0" text-anchor="middle" textLength="11.5" lengthAdjust="spacingAndGlyphs">0</text>
<text class="m d" transform="translate(237.54 200.10) scale(0.100)" font-size="29.0" text-anchor="middle" textLength="11.5" lengthAdjust="spacingAndGlyphs">0</text>
<text class="m d" transform="translate(250.11 200.10) scale(0.100)" font-size="29.0" text-anchor="middle" textLength="11.5" lengthAdjust="spacingAndGlyphs">4</text>
<text class="m d" transform="translate(262.69 200.10) scale(0.100)" font-size="29.0" text-anchor="middle" textLength="23.0" lengthAdjust="spacingAndGlyphs">69</text>
<text class="m d" transform="translate(275.26 200.10) scale(0.100)" font-size="29.0" text-anchor="middle" textLength="11.5" lengthAdjust="spacingAndGlyphs">3</text>
<text class="m d" transform="translate(287.84 200.10) scale(0.100)" font-size="29.0" text-anchor="middle" textLength="11.5" lengthAdjust="spacingAndGlyphs">1</text>
<text class="m d" transform="translate(300.41 200.10) scale(0.100)" font-size="29.0" text-anchor="middle" textLength="11.5" lengthAdjust="spacingAndGlyphs">1</text>
<text class="m d" transform="translate(312.99 200.10) scale(0.100)" font-size="29.0" text-anchor="middle" textLength="11.5" lengthAdjust="spacingAndGlyphs">0</text>
<text class="m d" transform="translate(325.56 200.10) scale(0.100)" font-size="29.0" text-anchor="middle" textLength="11.5" lengthAdjust="spacingAndGlyphs">0</text>
<text class="m d" transform="translate(237.54 212.62) scale(0.100)" font-size="29.0" text-anchor="middle" textLength="11.5" lengthAdjust="spacingAndGlyphs">1</text>
<text class="m d" transform="translate(250.11 212.62) scale(0.100)" font-size="29.0" text-anchor="middle" textLength="11.5" lengthAdjust="spacingAndGlyphs">2</text>
<text class="m d" transform="translate(262.69 212.62) scale(0.100)" font-size="29.0" text-anchor="middle" textLength="11.5" lengthAdjust="spacingAndGlyphs">2</text>
<text class="m d" transform="translate(275.26 212.62) scale(0.100)" font-size="29.0" text-anchor="middle" textLength="23.0" lengthAdjust="spacingAndGlyphs">68</text>
<text class="m d" transform="translate(287.84 212.62) scale(0.100)" font-size="29.0" text-anchor="middle" textLength="11.5" lengthAdjust="spacingAndGlyphs">0</text>
<text class="m d" transform="translate(300.41 212.62) scale(0.100)" font-size="29.0" text-anchor="middle" textLength="11.5" lengthAdjust="spacingAndGlyphs">2</text>
<text class="m d" transform="translate(312.99 212.62) scale(0.100)" font-size="29.0" text-anchor="middle" textLength="11.5" lengthAdjust="spacingAndGlyphs">1</text>
<text class="m d" transform="translate(325.56 212.62) scale(0.100)" font-size="29.0" text-anchor="middle" textLength="11.5" lengthAdjust="spacingAndGlyphs">0</text>
<text class="m d" transform="translate(237.54 225.13) scale(0.100)" font-size="29.0" text-anchor="middle" textLength="11.5" lengthAdjust="spacingAndGlyphs">1</text>
<text class="m d" transform="translate(250.11 225.13) scale(0.100)" font-size="29.0" text-anchor="middle" textLength="11.5" lengthAdjust="spacingAndGlyphs">1</text>
<text class="m d" transform="translate(262.69 225.13) scale(0.100)" font-size="29.0" text-anchor="middle" textLength="11.5" lengthAdjust="spacingAndGlyphs">4</text>
<text class="m d" transform="translate(275.26 225.13) scale(0.100)" font-size="29.0" text-anchor="middle" textLength="11.5" lengthAdjust="spacingAndGlyphs">1</text>
<text class="m d" transform="translate(287.84 225.13) scale(0.100)" font-size="29.0" text-anchor="middle" textLength="23.0" lengthAdjust="spacingAndGlyphs">67</text>
<text class="m d" transform="translate(300.41 225.13) scale(0.100)" font-size="29.0" text-anchor="middle" textLength="11.5" lengthAdjust="spacingAndGlyphs">1</text>
<text class="m d" transform="translate(312.99 225.13) scale(0.100)" font-size="29.0" text-anchor="middle" textLength="11.5" lengthAdjust="spacingAndGlyphs">2</text>
<text class="m d" transform="translate(325.56 225.13) scale(0.100)" font-size="29.0" text-anchor="middle" textLength="11.5" lengthAdjust="spacingAndGlyphs">0</text>
<text class="m d" transform="translate(237.54 237.65) scale(0.100)" font-size="29.0" text-anchor="middle" textLength="11.5" lengthAdjust="spacingAndGlyphs">1</text>
<text class="m d" transform="translate(250.11 237.65) scale(0.100)" font-size="29.0" text-anchor="middle" textLength="11.5" lengthAdjust="spacingAndGlyphs">2</text>
<text class="m d" transform="translate(262.69 237.65) scale(0.100)" font-size="29.0" text-anchor="middle" textLength="11.5" lengthAdjust="spacingAndGlyphs">2</text>
<text class="m d" transform="translate(275.26 237.65) scale(0.100)" font-size="29.0" text-anchor="middle" textLength="11.5" lengthAdjust="spacingAndGlyphs">0</text>
<text class="m d" transform="translate(287.84 237.65) scale(0.100)" font-size="29.0" text-anchor="middle" textLength="11.5" lengthAdjust="spacingAndGlyphs">0</text>
<text class="m d" transform="translate(300.41 237.65) scale(0.100)" font-size="29.0" text-anchor="middle" textLength="23.0" lengthAdjust="spacingAndGlyphs">70</text>
<text class="m d" transform="translate(312.99 237.65) scale(0.100)" font-size="29.0" text-anchor="middle" textLength="11.5" lengthAdjust="spacingAndGlyphs">1</text>
<text class="m d" transform="translate(325.56 237.65) scale(0.100)" font-size="29.0" text-anchor="middle" textLength="11.5" lengthAdjust="spacingAndGlyphs">0</text>
<text class="m d" transform="translate(237.54 250.17) scale(0.100)" font-size="29.0" text-anchor="middle" textLength="11.5" lengthAdjust="spacingAndGlyphs">0</text>
<text class="m d" transform="translate(250.11 250.17) scale(0.100)" font-size="29.0" text-anchor="middle" textLength="11.5" lengthAdjust="spacingAndGlyphs">1</text>
<text class="m d" transform="translate(262.69 250.17) scale(0.100)" font-size="29.0" text-anchor="middle" textLength="11.5" lengthAdjust="spacingAndGlyphs">1</text>
<text class="m d" transform="translate(275.26 250.17) scale(0.100)" font-size="29.0" text-anchor="middle" textLength="11.5" lengthAdjust="spacingAndGlyphs">2</text>
<text class="m d" transform="translate(287.84 250.17) scale(0.100)" font-size="29.0" text-anchor="middle" textLength="11.5" lengthAdjust="spacingAndGlyphs">1</text>
<text class="m d" transform="translate(300.41 250.17) scale(0.100)" font-size="29.0" text-anchor="middle" textLength="11.5" lengthAdjust="spacingAndGlyphs">1</text>
<text class="m d" transform="translate(312.99 250.17) scale(0.100)" font-size="29.0" text-anchor="middle" textLength="23.0" lengthAdjust="spacingAndGlyphs">70</text>
<text class="m d" transform="translate(325.56 250.17) scale(0.100)" font-size="29.0" text-anchor="middle" textLength="11.5" lengthAdjust="spacingAndGlyphs">2</text>
<text class="m d" transform="translate(237.54 262.69) scale(0.100)" font-size="29.0" text-anchor="middle" textLength="11.5" lengthAdjust="spacingAndGlyphs">0</text>
<text class="m d" transform="translate(250.11 262.69) scale(0.100)" font-size="29.0" text-anchor="middle" textLength="11.5" lengthAdjust="spacingAndGlyphs">1</text>
<text class="m d" transform="translate(262.69 262.69) scale(0.100)" font-size="29.0" text-anchor="middle" textLength="11.5" lengthAdjust="spacingAndGlyphs">0</text>
<text class="m d" transform="translate(275.26 262.69) scale(0.100)" font-size="29.0" text-anchor="middle" textLength="11.5" lengthAdjust="spacingAndGlyphs">1</text>
<text class="m d" transform="translate(287.84 262.69) scale(0.100)" font-size="29.0" text-anchor="middle" textLength="11.5" lengthAdjust="spacingAndGlyphs">1</text>
<text class="m d" transform="translate(300.41 262.69) scale(0.100)" font-size="29.0" text-anchor="middle" textLength="11.5" lengthAdjust="spacingAndGlyphs">0</text>
<text class="m d" transform="translate(312.99 262.69) scale(0.100)" font-size="29.0" text-anchor="middle" textLength="11.5" lengthAdjust="spacingAndGlyphs">2</text>
<text class="m d" transform="translate(325.56 262.69) scale(0.100)" font-size="29.0" text-anchor="middle" textLength="23.0" lengthAdjust="spacingAndGlyphs">72</text>
<path d="M231.25 174.26h-1.5M237.54 268.15v1.6" stroke="#111" stroke-width="0.5" fill="none"/>
<text class="m" transform="translate(228.25 175.86) scale(0.100)" font-size="47.0" text-anchor="end" textLength="230.4" lengthAdjust="spacingAndGlyphs">NanjingYY108</text>
<text class="m" transform="translate(238.94 274.45) rotate(-30) scale(0.100)" font-size="47.0" text-anchor="end" textLength="228.0" lengthAdjust="spacingAndGlyphs" stroke-width="1.6">NanjingYY108</text>
<path d="M231.25 186.78h-1.5M250.11 268.15v1.6" stroke="#111" stroke-width="0.5" fill="none"/>
<text class="m" transform="translate(228.25 188.38) scale(0.100)" font-size="47.0" text-anchor="end" textLength="204.0" lengthAdjust="spacingAndGlyphs">Zhenghan10</text>
<text class="m" transform="translate(251.51 274.45) rotate(-30) scale(0.100)" font-size="47.0" text-anchor="end" textLength="202.0" lengthAdjust="spacingAndGlyphs" stroke-width="1.6">Zhenghan10</text>
<path d="M231.25 199.30h-1.5M262.69 268.15v1.6" stroke="#111" stroke-width="0.5" fill="none"/>
<text class="m" transform="translate(228.25 200.90) scale(0.100)" font-size="47.0" text-anchor="end" textLength="163.2" lengthAdjust="spacingAndGlyphs">Nanmus35</text>
<text class="m" transform="translate(264.09 274.45) rotate(-30) scale(0.100)" font-size="47.0" text-anchor="end" textLength="161.6" lengthAdjust="spacingAndGlyphs" stroke-width="1.6">Nanmus35</text>
<path d="M231.25 211.82h-1.5M275.26 268.15v1.6" stroke="#111" stroke-width="0.5" fill="none"/>
<text class="m" transform="translate(228.25 213.42) scale(0.100)" font-size="47.0" text-anchor="end" textLength="183.6" lengthAdjust="spacingAndGlyphs">Yuanhan35</text>
<text class="m" transform="translate(276.66 274.45) rotate(-30) scale(0.100)" font-size="47.0" text-anchor="end" textLength="181.8" lengthAdjust="spacingAndGlyphs" stroke-width="1.6">Yuanhan35</text>
<path d="M231.25 224.33h-1.5M287.84 268.15v1.6" stroke="#111" stroke-width="0.5" fill="none"/>
<text class="m" transform="translate(228.25 225.93) scale(0.100)" font-size="47.0" text-anchor="end" textLength="183.6" lengthAdjust="spacingAndGlyphs">Lianmuo13</text>
<text class="m" transform="translate(289.24 274.45) rotate(-30) scale(0.100)" font-size="47.0" text-anchor="end" textLength="181.8" lengthAdjust="spacingAndGlyphs" stroke-width="1.6">Lianmuo13</text>
<path d="M231.25 236.85h-1.5M300.41 268.15v1.6" stroke="#111" stroke-width="0.5" fill="none"/>
<text class="m" transform="translate(228.25 238.45) scale(0.100)" font-size="47.0" text-anchor="end" textLength="142.8" lengthAdjust="spacingAndGlyphs">Nyou518</text>
<text class="m" transform="translate(301.81 274.45) rotate(-30) scale(0.100)" font-size="47.0" text-anchor="end" textLength="141.4" lengthAdjust="spacingAndGlyphs" stroke-width="1.6">Nyou518</text>
<path d="M231.25 249.37h-1.5M312.99 268.15v1.6" stroke="#111" stroke-width="0.5" fill="none"/>
<text class="m" transform="translate(228.25 250.97) scale(0.100)" font-size="47.0" text-anchor="end" textLength="244.8" lengthAdjust="spacingAndGlyphs">Huanghuaihan</text>
<text class="m" transform="translate(314.39 274.45) rotate(-30) scale(0.100)" font-size="47.0" text-anchor="end" textLength="242.4" lengthAdjust="spacingAndGlyphs" stroke-width="1.6">Huanghuaihan</text>
<path d="M231.25 261.89h-1.5M325.56 268.15v1.6" stroke="#111" stroke-width="0.5" fill="none"/>
<text class="m" transform="translate(228.25 263.49) scale(0.100)" font-size="47.0" text-anchor="end" textLength="122.4" lengthAdjust="spacingAndGlyphs">Liusha</text>
<text class="m" transform="translate(326.96 274.45) rotate(-30) scale(0.100)" font-size="47.0" text-anchor="end" textLength="121.2" lengthAdjust="spacingAndGlyphs" stroke-width="1.6">Liusha</text>
<text class="m" transform="translate(201.50 218.67) rotate(-90) scale(0.100)" font-size="46.0" text-anchor="middle" textLength="246.0" lengthAdjust="spacingAndGlyphs">Actual label</text>
<text class="m" transform="translate(281.30 292.35) scale(0.100)" font-size="48.0" text-anchor="middle" textLength="269.1" lengthAdjust="spacingAndGlyphs">Predict label</text>
<text class="m" transform="translate(281.20 160.55) scale(0.100)" font-size="55.0" text-anchor="middle" textLength="191.2" lengthAdjust="spacingAndGlyphs" stroke-width="1.2">PointNet</text>
<text class="m" transform="translate(281.20 165.65) scale(0.100)" font-size="55.0" text-anchor="middle" textLength="475.0" lengthAdjust="spacingAndGlyphs" stroke-width="0.4">Acc=0.89 Error=0.11</text>
<rect x="340.05" y="168.00" width="5.20" height="100.15" fill="url(#g)" stroke="#444" stroke-width="0.4"/>
<path d="M345.25 268.15h1.5" stroke="#333" stroke-width="0.4"/>
<text class="m" transform="translate(347.75 269.65) scale(0.100)" font-size="47.0" text-anchor="start" textLength="20.0" lengthAdjust="spacingAndGlyphs">0</text>
<path d="M345.25 254.43h1.5" stroke="#333" stroke-width="0.4"/>
<text class="m" transform="translate(347.75 255.93) scale(0.100)" font-size="47.0" text-anchor="start" textLength="40.0" lengthAdjust="spacingAndGlyphs">10</text>
<path d="M345.25 240.71h1.5" stroke="#333" stroke-width="0.4"/>
<text class="m" transform="translate(347.75 242.21) scale(0.100)" font-size="47.0" text-anchor="start" textLength="40.0" lengthAdjust="spacingAndGlyphs">20</text>
<path d="M345.25 226.99h1.5" stroke="#333" stroke-width="0.4"/>
<text class="m" transform="translate(347.75 228.49) scale(0.100)" font-size="47.0" text-anchor="start" textLength="40.0" lengthAdjust="spacingAndGlyphs">30</text>
<path d="M345.25 213.27h1.5" stroke="#333" stroke-width="0.4"/>
<text class="m" transform="translate(347.75 214.77) scale(0.100)" font-size="47.0" text-anchor="start" textLength="40.0" lengthAdjust="spacingAndGlyphs">40</text>
<path d="M345.25 199.55h1.5" stroke="#333" stroke-width="0.4"/>
<text class="m" transform="translate(347.75 201.05) scale(0.100)" font-size="47.0" text-anchor="start" textLength="40.0" lengthAdjust="spacingAndGlyphs">50</text>
<path d="M345.25 185.83h1.5" stroke="#333" stroke-width="0.4"/>
<text class="m" transform="translate(347.75 187.33) scale(0.100)" font-size="47.0" text-anchor="start" textLength="40.0" lengthAdjust="spacingAndGlyphs">60</text>
<path d="M345.25 172.12h1.5" stroke="#333" stroke-width="0.4"/>
<text class="m" transform="translate(347.75 173.62) scale(0.100)" font-size="47.0" text-anchor="start" textLength="40.0" lengthAdjust="spacingAndGlyphs">70</text>
<text class="s" transform="translate(273.80 302.75) scale(0.100)" font-size="82.0" text-anchor="middle" stroke="#111" stroke-width="1.5">(e)</text>
</g>
</svg></body></html>
